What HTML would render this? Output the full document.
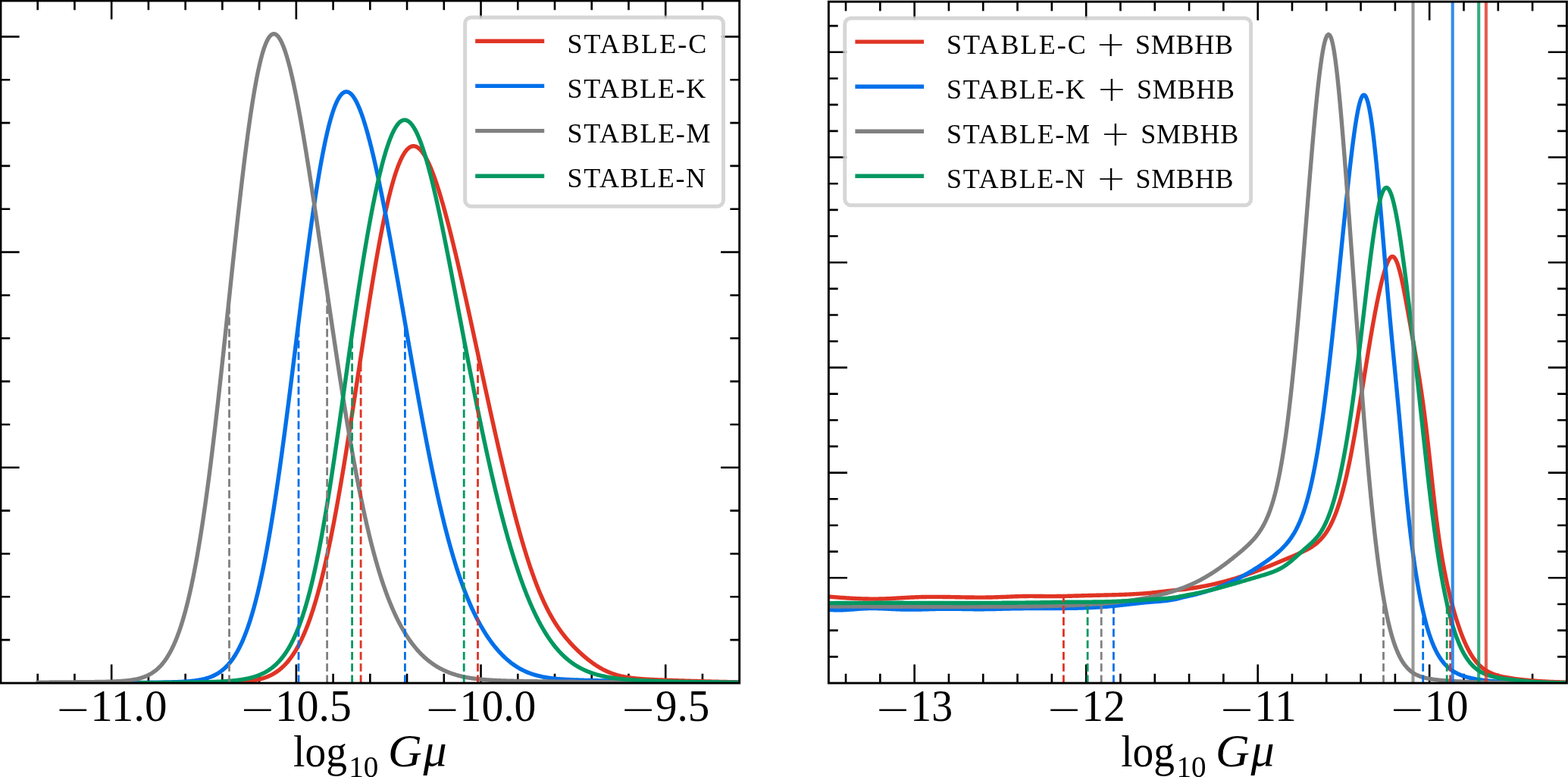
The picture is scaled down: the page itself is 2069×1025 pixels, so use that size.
<!DOCTYPE html><html><head><meta charset="utf-8"><title>plot</title><style>html,body{margin:0;padding:0;background:#fff;overflow:hidden}svg{display:block}</style></head><body><svg width="2069" height="1025" viewBox="0 0 2069 1025">
<rect width="2069" height="1025" fill="#fff"/>
<defs>
<clipPath id="cl"><rect x="0.95" y="1" width="974.75" height="900.1"/></clipPath>
<clipPath id="cr"><rect x="1093.4" y="2.2" width="974" height="898.9"/></clipPath>
</defs>
<path d="M147.16,901.1 V876.5 M147.16,1 V25.6 M390.85,901.1 V876.5 M390.85,1 V25.6 M634.54,901.1 V876.5 M634.54,1 V25.6 M878.23,901.1 V876.5 M878.23,1 V25.6 M49.69,901.1 V888.8 M49.69,1 V13.3 M98.43,901.1 V888.8 M98.43,1 V13.3 M195.9,901.1 V888.8 M195.9,1 V13.3 M244.64,901.1 V888.8 M244.64,1 V13.3 M293.38,901.1 V888.8 M293.38,1 V13.3 M342.11,901.1 V888.8 M342.11,1 V13.3 M439.59,901.1 V888.8 M439.59,1 V13.3 M488.33,901.1 V888.8 M488.33,1 V13.3 M537.06,901.1 V888.8 M537.06,1 V13.3 M585.8,901.1 V888.8 M585.8,1 V13.3 M683.28,901.1 V888.8 M683.28,1 V13.3 M732.01,901.1 V888.8 M732.01,1 V13.3 M780.75,901.1 V888.8 M780.75,1 V13.3 M829.49,901.1 V888.8 M829.49,1 V13.3 M926.96,901.1 V888.8 M926.96,1 V13.3 M0.95,616.8 H25.55 M975.7,616.8 H951.1 M0.95,332.6 H25.55 M975.7,332.6 H951.1 M0.95,48.4 H25.55 M975.7,48.4 H951.1 M0.95,844.16 H13.25 M975.7,844.16 H963.4 M0.95,787.32 H13.25 M975.7,787.32 H963.4 M0.95,730.48 H13.25 M975.7,730.48 H963.4 M0.95,673.64 H13.25 M975.7,673.64 H963.4 M0.95,559.96 H13.25 M975.7,559.96 H963.4 M0.95,503.12 H13.25 M975.7,503.12 H963.4 M0.95,446.28 H13.25 M975.7,446.28 H963.4 M0.95,389.44 H13.25 M975.7,389.44 H963.4 M0.95,275.76 H13.25 M975.7,275.76 H963.4 M0.95,218.92 H13.25 M975.7,218.92 H963.4 M0.95,162.08 H13.25 M975.7,162.08 H963.4 M0.95,105.24 H13.25 M975.7,105.24 H963.4" stroke="#000" stroke-width="2.6" fill="none"/>
<path d="M1206.66,901.1 V876.5 M1206.66,2.2 V26.8 M1433.17,901.1 V876.5 M1433.17,2.2 V26.8 M1659.68,901.1 V876.5 M1659.68,2.2 V26.8 M1886.19,901.1 V876.5 M1886.19,2.2 V26.8 M1116.05,901.1 V888.8 M1116.05,2.2 V14.5 M1161.35,901.1 V888.8 M1161.35,2.2 V14.5 M1251.96,901.1 V888.8 M1251.96,2.2 V14.5 M1297.26,901.1 V888.8 M1297.26,2.2 V14.5 M1342.56,901.1 V888.8 M1342.56,2.2 V14.5 M1387.87,901.1 V888.8 M1387.87,2.2 V14.5 M1478.47,901.1 V888.8 M1478.47,2.2 V14.5 M1523.77,901.1 V888.8 M1523.77,2.2 V14.5 M1569.07,901.1 V888.8 M1569.07,2.2 V14.5 M1614.38,901.1 V888.8 M1614.38,2.2 V14.5 M1704.98,901.1 V888.8 M1704.98,2.2 V14.5 M1750.28,901.1 V888.8 M1750.28,2.2 V14.5 M1795.59,901.1 V888.8 M1795.59,2.2 V14.5 M1840.89,901.1 V888.8 M1840.89,2.2 V14.5 M1931.49,901.1 V888.8 M1931.49,2.2 V14.5 M1976.8,901.1 V888.8 M1976.8,2.2 V14.5 M2022.1,901.1 V888.8 M2022.1,2.2 V14.5 M1093.4,762.3 H1118 M2067.4,762.3 H2042.8 M1093.4,623.6 H1118 M2067.4,623.6 H2042.8 M1093.4,484.9 H1118 M2067.4,484.9 H2042.8 M1093.4,346.2 H1118 M2067.4,346.2 H2042.8 M1093.4,207.5 H1118 M2067.4,207.5 H2042.8 M1093.4,68.8 H1118 M2067.4,68.8 H2042.8 M1093.4,866.33 H1105.7 M2067.4,866.33 H2055.1 M1093.4,831.65 H1105.7 M2067.4,831.65 H2055.1 M1093.4,796.98 H1105.7 M2067.4,796.98 H2055.1 M1093.4,727.62 H1105.7 M2067.4,727.62 H2055.1 M1093.4,692.95 H1105.7 M2067.4,692.95 H2055.1 M1093.4,658.28 H1105.7 M2067.4,658.28 H2055.1 M1093.4,588.92 H1105.7 M2067.4,588.92 H2055.1 M1093.4,554.25 H1105.7 M2067.4,554.25 H2055.1 M1093.4,519.58 H1105.7 M2067.4,519.58 H2055.1 M1093.4,450.23 H1105.7 M2067.4,450.23 H2055.1 M1093.4,415.55 H1105.7 M2067.4,415.55 H2055.1 M1093.4,380.88 H1105.7 M2067.4,380.88 H2055.1 M1093.4,311.53 H1105.7 M2067.4,311.53 H2055.1 M1093.4,276.85 H1105.7 M2067.4,276.85 H2055.1 M1093.4,242.18 H1105.7 M2067.4,242.18 H2055.1 M1093.4,172.83 H1105.7 M2067.4,172.83 H2055.1 M1093.4,138.15 H1105.7 M2067.4,138.15 H2055.1 M1093.4,103.48 H1105.7 M2067.4,103.48 H2055.1 M1093.4,34.13 H1105.7 M2067.4,34.13 H2055.1" stroke="#000" stroke-width="2.6" fill="none"/>
<g clip-path="url(#cl)" fill="none">
<path d="M200,901 L201,901 L202,901 L203,901 L204,901 L205,901 L206,901 L207,901 L208,901 L209,901 L210,901 L211,901 L212,901 L213,901 L214,901 L215,901 L216,901 L217,901 L218,901 L219,901 L220,901 L221,901 L222,901 L223,901 L224,901 L225,901 L226,901 L227,901 L228,901 L229,901 L230,901 L231,901 L232,901 L233,901 L234,901 L235,901 L236,901 L237,901 L238,901 L239,901 L240,901 L241,900.99 L242,900.99 L243,900.99 L244,900.99 L245,900.99 L246,900.99 L247,900.99 L248,900.99 L249,900.99 L250,900.99 L251,900.99 L252,900.99 L253,900.99 L254,900.98 L255,900.98 L256,900.98 L257,900.98 L258,900.98 L259,900.98 L260,900.98 L261,900.97 L262,900.97 L263,900.97 L264,900.97 L265,900.96 L266,900.96 L267,900.96 L268,900.96 L269,900.95 L270,900.95 L271,900.94 L272,900.94 L273,900.94 L274,900.93 L275,900.93 L276,900.92 L277,900.91 L278,900.91 L279,900.9 L280,900.89 L281,900.89 L282,900.88 L283,900.87 L284,900.86 L285,900.85 L286,900.84 L287,900.83 L288,900.82 L289,900.8 L290,900.79 L291,900.78 L292,900.76 L293,900.74 L294,900.73 L295,900.71 L296,900.69 L297,900.67 L298,900.64 L299,900.62 L300,900.59 L301,900.57 L302,900.54 L303,900.51 L304,900.47 L305,900.44 L306,900.4 L307,900.37 L308,900.32 L309,900.28 L310,900.23 L311,900.19 L312,900.13 L313,900.08 L314,900.02 L315,899.96 L316,899.9 L317,899.83 L318,899.76 L319,899.68 L320,899.6 L321,899.52 L322,899.43 L323,899.33 L324,899.23 L325,899.13 L326,899.02 L327,898.9 L328,898.78 L329,898.65 L330,898.51 L331,898.37 L332,898.22 L333,898.06 L334,897.9 L335,897.72 L336,897.54 L337,897.35 L338,897.15 L339,896.93 L340,896.71 L341,896.48 L342,896.23 L343,895.98 L344,895.71 L345,895.43 L346,895.13 L347,894.82 L348,894.5 L349,894.16 L350,893.81 L351,893.44 L352,893.05 L353,892.65 L354,892.23 L355,891.79 L356,891.33 L357,890.85 L358,890.35 L359,889.83 L360,889.28 L361,888.72 L362,888.12 L363,887.51 L364,886.87 L365,886.2 L366,885.51 L367,884.79 L368,884.04 L369,883.26 L370,882.45 L371,881.61 L372,880.73 L373,879.82 L374,878.88 L375,877.91 L376,876.89 L377,875.84 L378,874.75 L379,873.62 L380,872.46 L381,871.25 L382,869.99 L383,868.7 L384,867.36 L385,865.97 L386,864.54 L387,863.06 L388,861.53 L389,859.95 L390,858.32 L391,856.63 L392,854.9 L393,853.11 L394,851.26 L395,849.36 L396,847.4 L397,845.38 L398,843.3 L399,841.16 L400,838.96 L401,836.7 L402,834.37 L403,831.98 L404,829.52 L405,827 L406,824.41 L407,821.74 L408,819.01 L409,816.22 L410,813.34 L411,810.4 L412,807.39 L413,804.3 L414,801.14 L415,797.9 L416,794.59 L417,791.2 L418,787.74 L419,784.19 L420,780.58 L421,776.88 L422,773.11 L423,769.26 L424,765.33 L425,761.32 L426,757.24 L427,753.07 L428,748.83 L429,744.51 L430,740.11 L431,735.63 L432,731.08 L433,726.44 L434,721.73 L435,716.95 L436,712.09 L437,707.15 L438,702.14 L439,697.05 L440,691.9 L441,686.67 L442,681.36 L443,675.99 L444,670.55 L445,665.05 L446,659.48 L447,653.84 L448,648.14 L449,642.37 L450,636.55 L451,630.67 L452,624.74 L453,618.74 L454,612.7 L455,606.6 L456,600.46 L457,594.27 L458,588.04 L459,581.76 L460,575.44 L461,569.09 L462,562.7 L463,556.28 L464,549.83 L465,543.36 L466,536.86 L467,530.34 L468,523.8 L469,517.24 L470,510.67 L471,504.1 L472,497.51 L473,490.92 L474,484.34 L475,477.75 L476,471.17 L477,464.6 L478,458.04 L479,451.5 L480,444.97 L481,438.47 L482,432 L483,425.55 L484,419.13 L485,412.75 L486,406.41 L487,400.1 L488,393.85 L489,387.64 L490,381.48 L491,375.38 L492,369.33 L493,363.35 L494,357.43 L495,351.57 L496,345.79 L497,340.08 L498,334.44 L499,328.89 L500,323.41 L501,318.02 L502,312.72 L503,307.51 L504,302.38 L505,297.36 L506,292.43 L507,287.6 L508,282.87 L509,278.25 L510,273.74 L511,269.33 L512,265.03 L513,260.85 L514,256.78 L515,252.82 L516,248.99 L517,245.27 L518,241.67 L519,238.2 L520,234.84 L521,231.62 L522,228.51 L523,225.54 L524,222.69 L525,219.97 L526,217.38 L527,214.91 L528,212.58 L529,210.38 L530,208.3 L531,206.36 L532,204.55 L533,202.87 L534,201.32 L535,199.9 L536,198.61 L537,197.45 L538,196.42 L539,195.52 L540,194.75 L541,194.1 L542,193.59 L543,193.19 L544,192.93 L545,192.79 L546,192.77 L547,192.87 L548,193.09 L549,193.43 L550,193.9 L551,194.47 L552,195.17 L553,195.98 L554,196.9 L555,197.93 L556,199.07 L557,200.32 L558,201.67 L559,203.13 L560,204.69 L561,206.35 L562,208.12 L563,209.97 L564,211.93 L565,213.98 L566,216.11 L567,218.34 L568,220.66 L569,223.06 L570,225.55 L571,228.12 L572,230.77 L573,233.49 L574,236.3 L575,239.18 L576,242.13 L577,245.15 L578,248.24 L579,251.39 L580,254.62 L581,257.9 L582,261.25 L583,264.65 L584,268.11 L585,271.63 L586,275.21 L587,278.83 L588,282.51 L589,286.23 L590,290.01 L591,293.83 L592,297.69 L593,301.6 L594,305.54 L595,309.53 L596,313.55 L597,317.61 L598,321.71 L599,325.84 L600,330 L601,334.2 L602,338.42 L603,342.67 L604,346.95 L605,351.26 L606,355.59 L607,359.94 L608,364.32 L609,368.72 L610,373.13 L611,377.57 L612,382.03 L613,386.5 L614,390.99 L615,395.49 L616,400.01 L617,404.54 L618,409.08 L619,413.63 L620,418.2 L621,422.77 L622,427.35 L623,431.94 L624,436.54 L625,441.14 L626,445.75 L627,450.36 L628,454.97 L629,459.59 L630,464.21 L631,468.84 L632,473.46 L633,478.08 L634,482.7 L635,487.32 L636,491.94 L637,496.55 L638,501.16 L639,505.77 L640,510.37 L641,514.96 L642,519.55 L643,524.12 L644,528.7 L645,533.26 L646,537.81 L647,542.35 L648,546.88 L649,551.4 L650,555.9 L651,560.4 L652,564.87 L653,569.34 L654,573.78 L655,578.22 L656,582.63 L657,587.03 L658,591.4 L659,595.76 L660,600.1 L661,604.42 L662,608.71 L663,612.99 L664,617.24 L665,621.47 L666,625.67 L667,629.85 L668,634 L669,638.12 L670,642.22 L671,646.29 L672,650.33 L673,654.34 L674,658.32 L675,662.27 L676,666.19 L677,670.07 L678,673.93 L679,677.74 L680,681.53 L681,685.28 L682,688.99 L683,692.66 L684,696.3 L685,699.9 L686,703.47 L687,706.99 L688,710.47 L689,713.92 L690,717.32 L691,720.68 L692,724.01 L693,727.28 L694,730.52 L695,733.71 L696,736.86 L697,739.97 L698,743.03 L699,746.05 L700,749.02 L701,751.95 L702,754.83 L703,757.67 L704,760.46 L705,763.21 L706,765.91 L707,768.56 L708,771.17 L709,773.74 L710,776.26 L711,778.73 L712,781.16 L713,783.54 L714,785.88 L715,788.17 L716,790.42 L717,792.63 L718,794.79 L719,796.91 L720,798.99 L721,801.03 L722,803.02 L723,804.98 L724,806.89 L725,808.77 L726,810.6 L727,812.4 L728,814.16 L729,815.89 L730,817.58 L731,819.23 L732,820.85 L733,822.44 L734,823.99 L735,825.52 L736,827.01 L737,828.48 L738,829.91 L739,831.32 L740,832.7 L741,834.05 L742,835.38 L743,836.69 L744,837.97 L745,839.23 L746,840.46 L747,841.68 L748,842.87 L749,844.05 L750,845.2 L751,846.34 L752,847.46 L753,848.56 L754,849.65 L755,850.72 L756,851.78 L757,852.82 L758,853.84 L759,854.85 L760,855.85 L761,856.84 L762,857.81 L763,858.76 L764,859.71 L765,860.64 L766,861.56 L767,862.47 L768,863.37 L769,864.25 L770,865.12 L771,865.98 L772,866.83 L773,867.66 L774,868.48 L775,869.3 L776,870.09 L777,870.88 L778,871.65 L779,872.41 L780,873.16 L781,873.89 L782,874.62 L783,875.33 L784,876.02 L785,876.7 L786,877.37 L787,878.03 L788,878.67 L789,879.29 L790,879.91 L791,880.51 L792,881.09 L793,881.66 L794,882.22 L795,882.76 L796,883.29 L797,883.81 L798,884.31 L799,884.79 L800,885.27 L801,885.72 L802,886.17 L803,886.6 L804,887.02 L805,887.42 L806,887.82 L807,888.19 L808,888.56 L809,888.91 L810,889.25 L811,889.58 L812,889.9 L813,890.21 L814,890.5 L815,890.78 L816,891.05 L817,891.32 L818,891.57 L819,891.81 L820,892.04 L821,892.26 L822,892.48 L823,892.68 L824,892.88 L825,893.07 L826,893.25 L827,893.42 L828,893.58 L829,893.74 L830,893.89 L831,894.04 L832,894.18 L833,894.31 L834,894.44 L835,894.56 L836,894.68 L837,894.79 L838,894.9 L839,895 L840,895.1 L841,895.2 L842,895.29 L843,895.38 L844,895.46 L845,895.54 L846,895.62 L847,895.69 L848,895.77 L849,895.84 L850,895.9 L851,895.97 L852,896.03 L853,896.09 L854,896.15 L855,896.21 L856,896.27 L857,896.32 L858,896.37 L859,896.42 L860,896.47 L861,896.52 L862,896.57 L863,896.62 L864,896.66 L865,896.71 L866,896.75 L867,896.79 L868,896.83 L869,896.88 L870,896.92 L871,896.96 L872,897 L873,897.04 L874,897.07 L875,897.11 L876,897.15 L877,897.19 L878,897.22 L879,897.26 L880,897.3 L881,897.33 L882,897.37 L883,897.4 L884,897.44 L885,897.47 L886,897.5 L887,897.54 L888,897.57 L889,897.61 L890,897.64 L891,897.67 L892,897.71 L893,897.74 L894,897.77 L895,897.8 L896,897.84 L897,897.87 L898,897.9 L899,897.93 L900,897.96 L901,897.99 L902,898.03 L903,898.06 L904,898.09 L905,898.12 L906,898.15 L907,898.18 L908,898.21 L909,898.24 L910,898.27 L911,898.3 L912,898.33 L913,898.36 L914,898.39 L915,898.42 L916,898.45 L917,898.48 L918,898.51 L919,898.54 L920,898.57 L921,898.6 L922,898.62 L923,898.65 L924,898.68 L925,898.71 L926,898.74 L927,898.77 L928,898.79 L929,898.82 L930,898.85 L931,898.88 L932,898.9 L933,898.93 L934,898.96 L935,898.98 L936,899.01 L937,899.03 L938,899.06 L939,899.09 L940,899.11 L941,899.14 L942,899.16 L943,899.19 L944,899.21 L945,899.24 L946,899.26 L947,899.29 L948,899.31 L949,899.33 L950,899.36 L951,899.38 L952,899.41 L953,899.43 L954,899.45 L955,899.47 L956,899.5 L957,899.52 L958,899.54 L959,899.56 L960,899.59 L961,899.61 L962,899.63 L963,899.65 L964,899.67 L965,899.69 L966,899.71 L967,899.73 L968,899.75 L969,899.77 L970,899.79 L971,899.81 L972,899.83 L973,899.85 L974,899.87 L975,899.89 L976,899.91" stroke="#e03424" stroke-width="5.4" stroke-linejoin="round"/>
<path d="M150,900.64 L151,900.63 L152,900.63 L153,900.62 L154,900.62 L155,900.61 L156,900.61 L157,900.6 L158,900.6 L159,900.59 L160,900.59 L161,900.58 L162,900.57 L163,900.57 L164,900.56 L165,900.56 L166,900.55 L167,900.54 L168,900.54 L169,900.53 L170,900.53 L171,900.52 L172,900.51 L173,900.51 L174,900.5 L175,900.49 L176,900.49 L177,900.48 L178,900.47 L179,900.46 L180,900.46 L181,900.45 L182,900.44 L183,900.44 L184,900.43 L185,900.42 L186,900.41 L187,900.4 L188,900.4 L189,900.39 L190,900.38 L191,900.37 L192,900.36 L193,900.35 L194,900.34 L195,900.33 L196,900.32 L197,900.32 L198,900.31 L199,900.3 L200,900.28 L201,900.27 L202,900.26 L203,900.25 L204,900.24 L205,900.23 L206,900.22 L207,900.21 L208,900.19 L209,900.18 L210,900.17 L211,900.15 L212,900.14 L213,900.12 L214,900.11 L215,900.09 L216,900.07 L217,900.06 L218,900.04 L219,900.02 L220,900 L221,899.98 L222,899.96 L223,899.94 L224,899.92 L225,899.89 L226,899.87 L227,899.84 L228,899.81 L229,899.79 L230,899.76 L231,899.72 L232,899.69 L233,899.66 L234,899.62 L235,899.58 L236,899.54 L237,899.5 L238,899.45 L239,899.41 L240,899.36 L241,899.3 L242,899.25 L243,899.19 L244,899.13 L245,899.06 L246,899 L247,898.92 L248,898.85 L249,898.77 L250,898.68 L251,898.59 L252,898.49 L253,898.39 L254,898.29 L255,898.17 L256,898.06 L257,897.93 L258,897.8 L259,897.66 L260,897.51 L261,897.36 L262,897.19 L263,897.02 L264,896.84 L265,896.64 L266,896.44 L267,896.22 L268,896 L269,895.76 L270,895.51 L271,895.24 L272,894.96 L273,894.67 L274,894.36 L275,894.04 L276,893.69 L277,893.33 L278,892.96 L279,892.56 L280,892.14 L281,891.7 L282,891.24 L283,890.76 L284,890.25 L285,889.72 L286,889.16 L287,888.57 L288,887.96 L289,887.31 L290,886.64 L291,885.94 L292,885.2 L293,884.43 L294,883.62 L295,882.78 L296,881.9 L297,880.98 L298,880.02 L299,879.01 L300,877.97 L301,876.88 L302,875.74 L303,874.56 L304,873.32 L305,872.04 L306,870.7 L307,869.31 L308,867.86 L309,866.35 L310,864.79 L311,863.17 L312,861.48 L313,859.73 L314,857.91 L315,856.03 L316,854.08 L317,852.06 L318,849.96 L319,847.79 L320,845.55 L321,843.23 L322,840.83 L323,838.34 L324,835.78 L325,833.13 L326,830.4 L327,827.58 L328,824.67 L329,821.67 L330,818.58 L331,815.4 L332,812.12 L333,808.75 L334,805.28 L335,801.72 L336,798.05 L337,794.28 L338,790.41 L339,786.44 L340,782.37 L341,778.19 L342,773.91 L343,769.52 L344,765.03 L345,760.43 L346,755.72 L347,750.91 L348,745.98 L349,740.95 L350,735.82 L351,730.57 L352,725.22 L353,719.76 L354,714.19 L355,708.52 L356,702.75 L357,696.87 L358,690.88 L359,684.79 L360,678.61 L361,672.32 L362,665.93 L363,659.45 L364,652.87 L365,646.19 L366,639.43 L367,632.58 L368,625.64 L369,618.61 L370,611.5 L371,604.32 L372,597.05 L373,589.71 L374,582.31 L375,574.83 L376,567.29 L377,559.68 L378,552.02 L379,544.31 L380,536.54 L381,528.73 L382,520.88 L383,512.98 L384,505.06 L385,497.1 L386,489.11 L387,481.11 L388,473.08 L389,465.05 L390,457 L391,448.96 L392,440.91 L393,432.87 L394,424.84 L395,416.83 L396,408.83 L397,400.86 L398,392.92 L399,385.02 L400,377.16 L401,369.34 L402,361.57 L403,353.86 L404,346.2 L405,338.61 L406,331.09 L407,323.65 L408,316.28 L409,308.99 L410,301.79 L411,294.69 L412,287.68 L413,280.77 L414,273.97 L415,267.28 L416,260.7 L417,254.24 L418,247.9 L419,241.68 L420,235.59 L421,229.64 L422,223.82 L423,218.14 L424,212.6 L425,207.21 L426,201.96 L427,196.87 L428,191.93 L429,187.14 L430,182.51 L431,178.04 L432,173.73 L433,169.59 L434,165.61 L435,161.79 L436,158.14 L437,154.67 L438,151.36 L439,148.22 L440,145.26 L441,142.46 L442,139.84 L443,137.39 L444,135.12 L445,133.01 L446,131.08 L447,129.32 L448,127.73 L449,126.31 L450,125.07 L451,123.99 L452,123.08 L453,122.34 L454,121.76 L455,121.35 L456,121.1 L457,121.01 L458,121.09 L459,121.32 L460,121.7 L461,122.25 L462,122.94 L463,123.79 L464,124.78 L465,125.93 L466,127.21 L467,128.64 L468,130.21 L469,131.91 L470,133.75 L471,135.72 L472,137.82 L473,140.05 L474,142.41 L475,144.88 L476,147.48 L477,150.19 L478,153.02 L479,155.96 L480,159.01 L481,162.17 L482,165.43 L483,168.79 L484,172.25 L485,175.81 L486,179.47 L487,183.21 L488,187.05 L489,190.97 L490,194.97 L491,199.06 L492,203.23 L493,207.48 L494,211.8 L495,216.19 L496,220.65 L497,225.18 L498,229.78 L499,234.44 L500,239.17 L501,243.95 L502,248.79 L503,253.68 L504,258.63 L505,263.63 L506,268.68 L507,273.78 L508,278.93 L509,284.11 L510,289.34 L511,294.61 L512,299.92 L513,305.27 L514,310.65 L515,316.06 L516,321.5 L517,326.98 L518,332.48 L519,338.01 L520,343.56 L521,349.14 L522,354.73 L523,360.35 L524,365.99 L525,371.64 L526,377.31 L527,382.99 L528,388.68 L529,394.38 L530,400.1 L531,405.82 L532,411.54 L533,417.27 L534,423 L535,428.74 L536,434.47 L537,440.2 L538,445.93 L539,451.65 L540,457.36 L541,463.07 L542,468.77 L543,474.46 L544,480.13 L545,485.8 L546,491.44 L547,497.07 L548,502.68 L549,508.27 L550,513.84 L551,519.39 L552,524.92 L553,530.41 L554,535.89 L555,541.33 L556,546.74 L557,552.13 L558,557.48 L559,562.8 L560,568.08 L561,573.33 L562,578.54 L563,583.72 L564,588.85 L565,593.94 L566,599 L567,604.01 L568,608.97 L569,613.9 L570,618.77 L571,623.6 L572,628.39 L573,633.12 L574,637.81 L575,642.45 L576,647.04 L577,651.57 L578,656.06 L579,660.49 L580,664.87 L581,669.2 L582,673.48 L583,677.7 L584,681.86 L585,685.98 L586,690.03 L587,694.04 L588,697.98 L589,701.88 L590,705.72 L591,709.5 L592,713.22 L593,716.9 L594,720.51 L595,724.08 L596,727.58 L597,731.03 L598,734.43 L599,737.78 L600,741.07 L601,744.3 L602,747.49 L603,750.62 L604,753.7 L605,756.73 L606,759.7 L607,762.63 L608,765.5 L609,768.33 L610,771.11 L611,773.84 L612,776.52 L613,779.15 L614,781.74 L615,784.28 L616,786.77 L617,789.22 L618,791.63 L619,793.99 L620,796.32 L621,798.6 L622,800.83 L623,803.03 L624,805.19 L625,807.31 L626,809.39 L627,811.43 L628,813.43 L629,815.4 L630,817.33 L631,819.23 L632,821.09 L633,822.92 L634,824.71 L635,826.47 L636,828.2 L637,829.89 L638,831.56 L639,833.19 L640,834.8 L641,836.37 L642,837.91 L643,839.43 L644,840.92 L645,842.38 L646,843.81 L647,845.21 L648,846.59 L649,847.94 L650,849.26 L651,850.56 L652,851.84 L653,853.08 L654,854.31 L655,855.51 L656,856.68 L657,857.84 L658,858.96 L659,860.07 L660,861.15 L661,862.21 L662,863.25 L663,864.26 L664,865.26 L665,866.23 L666,867.18 L667,868.11 L668,869.01 L669,869.9 L670,870.77 L671,871.61 L672,872.44 L673,873.25 L674,874.03 L675,874.8 L676,875.55 L677,876.28 L678,876.99 L679,877.69 L680,878.36 L681,879.02 L682,879.66 L683,880.28 L684,880.88 L685,881.47 L686,882.04 L687,882.6 L688,883.14 L689,883.66 L690,884.17 L691,884.66 L692,885.14 L693,885.6 L694,886.05 L695,886.48 L696,886.9 L697,887.31 L698,887.7 L699,888.08 L700,888.45 L701,888.81 L702,889.15 L703,889.48 L704,889.8 L705,890.11 L706,890.41 L707,890.69 L708,890.97 L709,891.24 L710,891.49 L711,891.74 L712,891.98 L713,892.21 L714,892.43 L715,892.64 L716,892.84 L717,893.04 L718,893.22 L719,893.4 L720,893.58 L721,893.74 L722,893.9 L723,894.06 L724,894.21 L725,894.35 L726,894.48 L727,894.61 L728,894.74 L729,894.86 L730,894.97 L731,895.08 L732,895.19 L733,895.29 L734,895.39 L735,895.48 L736,895.57 L737,895.66 L738,895.74 L739,895.82 L740,895.9 L741,895.97 L742,896.04 L743,896.11 L744,896.17 L745,896.24 L746,896.3 L747,896.36 L748,896.41 L749,896.47 L750,896.52 L751,896.57 L752,896.62 L753,896.67 L754,896.71 L755,896.76 L756,896.8 L757,896.84 L758,896.88 L759,896.92 L760,896.96 L761,897 L762,897.03 L763,897.07 L764,897.11 L765,897.14 L766,897.17 L767,897.2 L768,897.24 L769,897.27 L770,897.3 L771,897.33 L772,897.36 L773,897.39 L774,897.42 L775,897.44 L776,897.47 L777,897.5 L778,897.53 L779,897.55 L780,897.58 L781,897.6 L782,897.63 L783,897.66 L784,897.68 L785,897.71 L786,897.73 L787,897.76 L788,897.78 L789,897.8 L790,897.83 L791,897.85 L792,897.87 L793,897.9 L794,897.92 L795,897.94 L796,897.97 L797,897.99 L798,898.01 L799,898.03 L800,898.06 L801,898.08 L802,898.1 L803,898.12 L804,898.15 L805,898.17 L806,898.19 L807,898.21 L808,898.23 L809,898.25 L810,898.27 L811,898.3 L812,898.32 L813,898.34 L814,898.36 L815,898.38 L816,898.4 L817,898.42 L818,898.44 L819,898.46 L820,898.48 L821,898.5 L822,898.52 L823,898.54 L824,898.56 L825,898.58 L826,898.6 L827,898.62 L828,898.64 L829,898.66 L830,898.68 L831,898.7 L832,898.72 L833,898.74 L834,898.76 L835,898.78 L836,898.8 L837,898.81 L838,898.83 L839,898.85 L840,898.87 L841,898.89 L842,898.91 L843,898.92 L844,898.94 L845,898.96 L846,898.98 L847,899 L848,899.01 L849,899.03 L850,899.05 L851,899.07 L852,899.08 L853,899.1 L854,899.12 L855,899.14 L856,899.15 L857,899.17 L858,899.19 L859,899.2 L860,899.22 L861,899.24 L862,899.25 L863,899.27 L864,899.29 L865,899.3 L866,899.32 L867,899.33 L868,899.35 L869,899.37 L870,899.38 L871,899.4 L872,899.41 L873,899.43 L874,899.44 L875,899.46 L876,899.47 L877,899.49 L878,899.5 L879,899.52 L880,899.53 L881,899.55 L882,899.56 L883,899.58 L884,899.59 L885,899.6 L886,899.62 L887,899.63 L888,899.65 L889,899.66 L890,899.67 L891,899.69 L892,899.7 L893,899.71 L894,899.73 L895,899.74 L896,899.75 L897,899.77 L898,899.78 L899,899.79 L900,899.81 L901,899.82 L902,899.83 L903,899.84 L904,899.86 L905,899.87 L906,899.88 L907,899.89 L908,899.9 L909,899.92 L910,899.93 L911,899.94 L912,899.95 L913,899.96 L914,899.97 L915,899.99 L916,900 L917,900.01 L918,900.02 L919,900.03 L920,900.04 L921,900.05 L922,900.06 L923,900.07 L924,900.08 L925,900.09 L926,900.1 L927,900.11 L928,900.12 L929,900.13 L930,900.14 L931,900.15 L932,900.16 L933,900.17 L934,900.18 L935,900.19 L936,900.2 L937,900.21 L938,900.22 L939,900.23 L940,900.24 L941,900.25 L942,900.26 L943,900.27 L944,900.27 L945,900.28 L946,900.29 L947,900.3 L948,900.31 L949,900.32 L950,900.33 L951,900.33 L952,900.34 L953,900.35 L954,900.36 L955,900.37 L956,900.37 L957,900.38 L958,900.39 L959,900.4 L960,900.4 L961,900.41 L962,900.42 L963,900.43 L964,900.43 L965,900.44 L966,900.45 L967,900.46 L968,900.46 L969,900.47 L970,900.48 L971,900.48 L972,900.49 L973,900.5 L974,900.5 L975,900.51 L976,900.51" stroke="#0070ea" stroke-width="5.4" stroke-linejoin="round"/>
<path d="M47.5,900.18 L48.5,900.18 L49.5,900.17 L50.5,900.17 L51.5,900.16 L52.5,900.15 L53.5,900.15 L54.5,900.14 L55.5,900.14 L56.5,900.13 L57.5,900.12 L58.5,900.12 L59.5,900.11 L60.5,900.1 L61.5,900.1 L62.5,900.09 L63.5,900.09 L64.5,900.08 L65.5,900.07 L66.5,900.07 L67.5,900.06 L68.5,900.05 L69.5,900.05 L70.5,900.04 L71.5,900.03 L72.5,900.03 L73.5,900.02 L74.5,900.01 L75.5,900.01 L76.5,900 L77.5,899.99 L78.5,899.98 L79.5,899.98 L80.5,899.97 L81.5,899.96 L82.5,899.96 L83.5,899.95 L84.5,899.94 L85.5,899.93 L86.5,899.93 L87.5,899.92 L88.5,899.91 L89.5,899.91 L90.5,899.9 L91.5,899.89 L92.5,899.88 L93.5,899.88 L94.5,899.87 L95.5,899.86 L96.5,899.85 L97.5,899.84 L98.5,899.84 L99.5,899.83 L100.5,899.82 L101.5,899.81 L102.5,899.8 L103.5,899.79 L104.5,899.79 L105.5,899.78 L106.5,899.77 L107.5,899.76 L108.5,899.75 L109.5,899.74 L110.5,899.73 L111.5,899.72 L112.5,899.71 L113.5,899.7 L114.5,899.69 L115.5,899.68 L116.5,899.67 L117.5,899.66 L118.5,899.65 L119.5,899.64 L120.5,899.63 L121.5,899.62 L122.5,899.61 L123.5,899.59 L124.5,899.58 L125.5,899.57 L126.5,899.56 L127.5,899.54 L128.5,899.53 L129.5,899.51 L130.5,899.5 L131.5,899.48 L132.5,899.46 L133.5,899.45 L134.5,899.43 L135.5,899.41 L136.5,899.39 L137.5,899.37 L138.5,899.35 L139.5,899.33 L140.5,899.3 L141.5,899.28 L142.5,899.25 L143.5,899.22 L144.5,899.2 L145.5,899.17 L146.5,899.13 L147.5,899.1 L148.5,899.07 L149.5,899.03 L150.5,898.99 L151.5,898.95 L152.5,898.9 L153.5,898.86 L154.5,898.81 L155.5,898.76 L156.5,898.7 L157.5,898.65 L158.5,898.58 L159.5,898.52 L160.5,898.45 L161.5,898.38 L162.5,898.3 L163.5,898.22 L164.5,898.13 L165.5,898.04 L166.5,897.95 L167.5,897.84 L168.5,897.73 L169.5,897.62 L170.5,897.5 L171.5,897.37 L172.5,897.23 L173.5,897.09 L174.5,896.93 L175.5,896.77 L176.5,896.6 L177.5,896.42 L178.5,896.23 L179.5,896.03 L180.5,895.81 L181.5,895.58 L182.5,895.34 L183.5,895.09 L184.5,894.82 L185.5,894.54 L186.5,894.24 L187.5,893.93 L188.5,893.6 L189.5,893.25 L190.5,892.88 L191.5,892.49 L192.5,892.08 L193.5,891.65 L194.5,891.19 L195.5,890.71 L196.5,890.21 L197.5,889.68 L198.5,889.13 L199.5,888.54 L200.5,887.93 L201.5,887.28 L202.5,886.6 L203.5,885.89 L204.5,885.14 L205.5,884.36 L206.5,883.54 L207.5,882.68 L208.5,881.78 L209.5,880.83 L210.5,879.84 L211.5,878.81 L212.5,877.73 L213.5,876.6 L214.5,875.42 L215.5,874.18 L216.5,872.89 L217.5,871.55 L218.5,870.14 L219.5,868.68 L220.5,867.15 L221.5,865.56 L222.5,863.9 L223.5,862.18 L224.5,860.38 L225.5,858.51 L226.5,856.57 L227.5,854.55 L228.5,852.45 L229.5,850.27 L230.5,848.01 L231.5,845.66 L232.5,843.23 L233.5,840.7 L234.5,838.09 L235.5,835.38 L236.5,832.57 L237.5,829.67 L238.5,826.66 L239.5,823.56 L240.5,820.35 L241.5,817.03 L242.5,813.6 L243.5,810.07 L244.5,806.42 L245.5,802.66 L246.5,798.78 L247.5,794.78 L248.5,790.67 L249.5,786.44 L250.5,782.08 L251.5,777.6 L252.5,772.99 L253.5,768.26 L254.5,763.4 L255.5,758.41 L256.5,753.29 L257.5,748.04 L258.5,742.66 L259.5,737.15 L260.5,731.51 L261.5,725.73 L262.5,719.82 L263.5,713.78 L264.5,707.61 L265.5,701.3 L266.5,694.86 L267.5,688.29 L268.5,681.58 L269.5,674.75 L270.5,667.79 L271.5,660.69 L272.5,653.48 L273.5,646.13 L274.5,638.67 L275.5,631.08 L276.5,623.37 L277.5,615.55 L278.5,607.61 L279.5,599.55 L280.5,591.39 L281.5,583.12 L282.5,574.75 L283.5,566.28 L284.5,557.71 L285.5,549.06 L286.5,540.31 L287.5,531.47 L288.5,522.56 L289.5,513.57 L290.5,504.52 L291.5,495.39 L292.5,486.21 L293.5,476.96 L294.5,467.67 L295.5,458.34 L296.5,448.96 L297.5,439.55 L298.5,430.11 L299.5,420.65 L300.5,411.18 L301.5,401.7 L302.5,392.21 L303.5,382.72 L304.5,373.25 L305.5,363.79 L306.5,354.36 L307.5,344.96 L308.5,335.59 L309.5,326.27 L310.5,317 L311.5,307.78 L312.5,298.63 L313.5,289.55 L314.5,280.55 L315.5,271.63 L316.5,262.8 L317.5,254.08 L318.5,245.45 L319.5,236.94 L320.5,228.55 L321.5,220.28 L322.5,212.14 L323.5,204.14 L324.5,196.29 L325.5,188.58 L326.5,181.02 L327.5,173.63 L328.5,166.4 L329.5,159.35 L330.5,152.47 L331.5,145.77 L332.5,139.26 L333.5,132.94 L334.5,126.81 L335.5,120.89 L336.5,115.17 L337.5,109.65 L338.5,104.35 L339.5,99.25 L340.5,94.38 L341.5,89.72 L342.5,85.29 L343.5,81.08 L344.5,77.1 L345.5,73.34 L346.5,69.82 L347.5,66.52 L348.5,63.46 L349.5,60.62 L350.5,58.03 L351.5,55.66 L352.5,53.53 L353.5,51.63 L354.5,49.96 L355.5,48.52 L356.5,47.32 L357.5,46.34 L358.5,45.59 L359.5,45.07 L360.5,44.77 L361.5,44.7 L362.5,44.85 L363.5,45.21 L364.5,45.79 L365.5,46.58 L366.5,47.59 L367.5,48.8 L368.5,50.21 L369.5,51.83 L370.5,53.64 L371.5,55.64 L372.5,57.84 L373.5,60.22 L374.5,62.78 L375.5,65.53 L376.5,68.44 L377.5,71.53 L378.5,74.79 L379.5,78.2 L380.5,81.78 L381.5,85.51 L382.5,89.39 L383.5,93.41 L384.5,97.58 L385.5,101.88 L386.5,106.32 L387.5,110.88 L388.5,115.57 L389.5,120.38 L390.5,125.31 L391.5,130.35 L392.5,135.5 L393.5,140.75 L394.5,146.1 L395.5,151.55 L396.5,157.09 L397.5,162.72 L398.5,168.44 L399.5,174.23 L400.5,180.11 L401.5,186.06 L402.5,192.08 L403.5,198.17 L404.5,204.32 L405.5,210.53 L406.5,216.8 L407.5,223.13 L408.5,229.5 L409.5,235.93 L410.5,242.4 L411.5,248.92 L412.5,255.47 L413.5,262.06 L414.5,268.69 L415.5,275.34 L416.5,282.03 L417.5,288.74 L418.5,295.48 L419.5,302.24 L420.5,309.02 L421.5,315.81 L422.5,322.62 L423.5,329.44 L424.5,336.27 L425.5,343.11 L426.5,349.96 L427.5,356.8 L428.5,363.65 L429.5,370.5 L430.5,377.35 L431.5,384.19 L432.5,391.02 L433.5,397.84 L434.5,404.66 L435.5,411.46 L436.5,418.24 L437.5,425.01 L438.5,431.75 L439.5,438.48 L440.5,445.19 L441.5,451.86 L442.5,458.52 L443.5,465.14 L444.5,471.74 L445.5,478.3 L446.5,484.83 L447.5,491.32 L448.5,497.78 L449.5,504.2 L450.5,510.57 L451.5,516.91 L452.5,523.2 L453.5,529.45 L454.5,535.65 L455.5,541.8 L456.5,547.9 L457.5,553.96 L458.5,559.95 L459.5,565.9 L460.5,571.79 L461.5,577.63 L462.5,583.41 L463.5,589.13 L464.5,594.79 L465.5,600.39 L466.5,605.93 L467.5,611.41 L468.5,616.82 L469.5,622.18 L470.5,627.46 L471.5,632.69 L472.5,637.84 L473.5,642.93 L474.5,647.96 L475.5,652.91 L476.5,657.8 L477.5,662.62 L478.5,667.38 L479.5,672.06 L480.5,676.68 L481.5,681.22 L482.5,685.7 L483.5,690.11 L484.5,694.46 L485.5,698.73 L486.5,702.93 L487.5,707.07 L488.5,711.14 L489.5,715.14 L490.5,719.07 L491.5,722.94 L492.5,726.74 L493.5,730.48 L494.5,734.15 L495.5,737.75 L496.5,741.29 L497.5,744.77 L498.5,748.18 L499.5,751.53 L500.5,754.82 L501.5,758.04 L502.5,761.21 L503.5,764.31 L504.5,767.36 L505.5,770.35 L506.5,773.28 L507.5,776.16 L508.5,778.97 L509.5,781.74 L510.5,784.45 L511.5,787.1 L512.5,789.7 L513.5,792.25 L514.5,794.75 L515.5,797.2 L516.5,799.6 L517.5,801.95 L518.5,804.26 L519.5,806.51 L520.5,808.72 L521.5,810.89 L522.5,813.01 L523.5,815.09 L524.5,817.12 L525.5,819.11 L526.5,821.06 L527.5,822.97 L528.5,824.84 L529.5,826.67 L530.5,828.46 L531.5,830.21 L532.5,831.93 L533.5,833.61 L534.5,835.25 L535.5,836.86 L536.5,838.44 L537.5,839.98 L538.5,841.49 L539.5,842.96 L540.5,844.41 L541.5,845.82 L542.5,847.2 L543.5,848.55 L544.5,849.87 L545.5,851.16 L546.5,852.43 L547.5,853.66 L548.5,854.87 L549.5,856.05 L550.5,857.21 L551.5,858.34 L552.5,859.44 L553.5,860.52 L554.5,861.57 L555.5,862.6 L556.5,863.6 L557.5,864.58 L558.5,865.54 L559.5,866.48 L560.5,867.39 L561.5,868.29 L562.5,869.16 L563.5,870.01 L564.5,870.84 L565.5,871.65 L566.5,872.44 L567.5,873.21 L568.5,873.96 L569.5,874.69 L570.5,875.41 L571.5,876.11 L572.5,876.79 L573.5,877.45 L574.5,878.09 L575.5,878.72 L576.5,879.33 L577.5,879.93 L578.5,880.51 L579.5,881.08 L580.5,881.63 L581.5,882.16 L582.5,882.68 L583.5,883.19 L584.5,883.68 L585.5,884.16 L586.5,884.63 L587.5,885.08 L588.5,885.52 L589.5,885.95 L590.5,886.37 L591.5,886.77 L592.5,887.16 L593.5,887.54 L594.5,887.91 L595.5,888.27 L596.5,888.62 L597.5,888.96 L598.5,889.29 L599.5,889.61 L600.5,889.92 L601.5,890.22 L602.5,890.51 L603.5,890.79 L604.5,891.06 L605.5,891.33 L606.5,891.58 L607.5,891.83 L608.5,892.07 L609.5,892.3 L610.5,892.53 L611.5,892.75 L612.5,892.96 L613.5,893.16 L614.5,893.36 L615.5,893.55 L616.5,893.73 L617.5,893.91 L618.5,894.09 L619.5,894.25 L620.5,894.41 L621.5,894.57 L622.5,894.72 L623.5,894.87 L624.5,895.01 L625.5,895.14 L626.5,895.28 L627.5,895.4 L628.5,895.52 L629.5,895.64 L630.5,895.76 L631.5,895.87 L632.5,895.97 L633.5,896.08 L634.5,896.17 L635.5,896.27 L636.5,896.36 L637.5,896.45 L638.5,896.54 L639.5,896.62 L640.5,896.7 L641.5,896.78 L642.5,896.85 L643.5,896.92 L644.5,896.99 L645.5,897.06 L646.5,897.12 L647.5,897.19 L648.5,897.25 L649.5,897.3 L650.5,897.36 L651.5,897.41 L652.5,897.47 L653.5,897.52 L654.5,897.56 L655.5,897.61 L656.5,897.66 L657.5,897.7 L658.5,897.74 L659.5,897.78 L660.5,897.82 L661.5,897.86 L662.5,897.9 L663.5,897.93 L664.5,897.97 L665.5,898 L666.5,898.03 L667.5,898.06 L668.5,898.09 L669.5,898.12 L670.5,898.15 L671.5,898.18 L672.5,898.2 L673.5,898.23 L674.5,898.25 L675.5,898.28 L676.5,898.3 L677.5,898.32 L678.5,898.35 L679.5,898.37 L680.5,898.39 L681.5,898.41 L682.5,898.43 L683.5,898.45 L684.5,898.47 L685.5,898.49 L686.5,898.5 L687.5,898.52 L688.5,898.54 L689.5,898.56 L690.5,898.57 L691.5,898.59 L692.5,898.6 L693.5,898.62 L694.5,898.63 L695.5,898.65 L696.5,898.66 L697.5,898.68 L698.5,898.69 L699.5,898.71 L700.5,898.72 L701.5,898.73 L702.5,898.75 L703.5,898.76 L704.5,898.77 L705.5,898.78 L706.5,898.8 L707.5,898.81 L708.5,898.82 L709.5,898.83 L710.5,898.84 L711.5,898.86 L712.5,898.87 L713.5,898.88 L714.5,898.89 L715.5,898.9 L716.5,898.91 L717.5,898.92 L718.5,898.93 L719.5,898.94 L720.5,898.96 L721.5,898.97 L722.5,898.98 L723.5,898.99 L724.5,899 L725.5,899.01 L726.5,899.02 L727.5,899.03 L728.5,899.04 L729.5,899.05 L730.5,899.06 L731.5,899.07 L732.5,899.08 L733.5,899.09 L734.5,899.1 L735.5,899.11 L736.5,899.12 L737.5,899.13 L738.5,899.14 L739.5,899.15 L740.5,899.16 L741.5,899.16 L742.5,899.17 L743.5,899.18 L744.5,899.19 L745.5,899.2 L746.5,899.21 L747.5,899.22 L748.5,899.23 L749.5,899.24 L750.5,899.25 L751.5,899.26 L752.5,899.27 L753.5,899.28 L754.5,899.29 L755.5,899.29 L756.5,899.3 L757.5,899.31 L758.5,899.32 L759.5,899.33 L760.5,899.34 L761.5,899.35 L762.5,899.36 L763.5,899.37 L764.5,899.37 L765.5,899.38 L766.5,899.39 L767.5,899.4 L768.5,899.41 L769.5,899.42 L770.5,899.43 L771.5,899.44 L772.5,899.44 L773.5,899.45 L774.5,899.46 L775.5,899.47 L776.5,899.48 L777.5,899.49 L778.5,899.5 L779.5,899.5 L780.5,899.51 L781.5,899.52 L782.5,899.53 L783.5,899.54 L784.5,899.55 L785.5,899.56 L786.5,899.56 L787.5,899.57 L788.5,899.58 L789.5,899.59 L790.5,899.6 L791.5,899.6 L792.5,899.61 L793.5,899.62 L794.5,899.63 L795.5,899.64 L796.5,899.65 L797.5,899.65 L798.5,899.66 L799.5,899.67 L800.5,899.68 L801.5,899.69 L802.5,899.69 L803.5,899.7 L804.5,899.71 L805.5,899.72 L806.5,899.73 L807.5,899.73 L808.5,899.74 L809.5,899.75 L810.5,899.76 L811.5,899.76 L812.5,899.77 L813.5,899.78 L814.5,899.79 L815.5,899.79 L816.5,899.8 L817.5,899.81 L818.5,899.82 L819.5,899.82 L820.5,899.83 L821.5,899.84 L822.5,899.85 L823.5,899.85 L824.5,899.86 L825.5,899.87 L826.5,899.88 L827.5,899.88 L828.5,899.89 L829.5,899.9 L830.5,899.91 L831.5,899.91 L832.5,899.92 L833.5,899.93 L834.5,899.93 L835.5,899.94 L836.5,899.95 L837.5,899.95 L838.5,899.96 L839.5,899.97 L840.5,899.98 L841.5,899.98 L842.5,899.99 L843.5,900 L844.5,900 L845.5,900.01 L846.5,900.02 L847.5,900.02 L848.5,900.03 L849.5,900.04 L850.5,900.04 L851.5,900.05 L852.5,900.06 L853.5,900.06 L854.5,900.07 L855.5,900.08 L856.5,900.08 L857.5,900.09 L858.5,900.1 L859.5,900.1 L860.5,900.11 L861.5,900.11 L862.5,900.12 L863.5,900.13 L864.5,900.13 L865.5,900.14 L866.5,900.15 L867.5,900.15 L868.5,900.16 L869.5,900.16 L870.5,900.17 L871.5,900.18 L872.5,900.18 L873.5,900.19 L874.5,900.19 L875.5,900.2 L876.5,900.21 L877.5,900.21 L878.5,900.22 L879.5,900.22 L880.5,900.23 L881.5,900.23 L882.5,900.24 L883.5,900.25 L884.5,900.25 L885.5,900.26 L886.5,900.26 L887.5,900.27 L888.5,900.27 L889.5,900.28 L890.5,900.28 L891.5,900.29 L892.5,900.3 L893.5,900.3 L894.5,900.31 L895.5,900.31 L896.5,900.32 L897.5,900.32 L898.5,900.33 L899.5,900.33 L900.5,900.34 L901.5,900.34 L902.5,900.35 L903.5,900.35 L904.5,900.36 L905.5,900.36 L906.5,900.37 L907.5,900.37 L908.5,900.38 L909.5,900.38 L910.5,900.39 L911.5,900.39 L912.5,900.4 L913.5,900.4 L914.5,900.41 L915.5,900.41 L916.5,900.42 L917.5,900.42 L918.5,900.43 L919.5,900.43 L920.5,900.44 L921.5,900.44 L922.5,900.44 L923.5,900.45 L924.5,900.45 L925.5,900.46 L926.5,900.46 L927.5,900.47 L928.5,900.47 L929.5,900.48 L930.5,900.48 L931.5,900.48 L932.5,900.49 L933.5,900.49 L934.5,900.5 L935.5,900.5 L936.5,900.51 L937.5,900.51 L938.5,900.51 L939.5,900.52 L940.5,900.52 L941.5,900.53 L942.5,900.53 L943.5,900.53 L944.5,900.54 L945.5,900.54 L946.5,900.55 L947.5,900.55 L948.5,900.55 L949.5,900.56 L950.5,900.56 L951.5,900.57 L952.5,900.57 L953.5,900.57 L954.5,900.58 L955.5,900.58 L956.5,900.58 L957.5,900.59 L958.5,900.59 L959.5,900.59 L960.5,900.6 L961.5,900.6 L962.5,900.61 L963.5,900.61 L964.5,900.61 L965.5,900.62 L966.5,900.62 L967.5,900.62 L968.5,900.63 L969.5,900.63 L970.5,900.63 L971.5,900.64 L972.5,900.64 L973.5,900.64 L974.5,900.65 L975.5,900.65 L976.5,900.65" stroke="#808080" stroke-width="5.4" stroke-linejoin="round"/>
<path d="M182,900.72 L183,900.72 L184,900.72 L185,900.71 L186,900.71 L187,900.7 L188,900.7 L189,900.69 L190,900.69 L191,900.68 L192,900.68 L193,900.67 L194,900.67 L195,900.66 L196,900.66 L197,900.65 L198,900.64 L199,900.64 L200,900.63 L201,900.63 L202,900.62 L203,900.62 L204,900.61 L205,900.6 L206,900.6 L207,900.59 L208,900.58 L209,900.58 L210,900.57 L211,900.56 L212,900.56 L213,900.55 L214,900.54 L215,900.54 L216,900.53 L217,900.52 L218,900.51 L219,900.51 L220,900.5 L221,900.49 L222,900.48 L223,900.48 L224,900.47 L225,900.46 L226,900.45 L227,900.44 L228,900.43 L229,900.42 L230,900.41 L231,900.4 L232,900.4 L233,900.39 L234,900.38 L235,900.37 L236,900.36 L237,900.35 L238,900.33 L239,900.32 L240,900.31 L241,900.3 L242,900.29 L243,900.28 L244,900.27 L245,900.25 L246,900.24 L247,900.23 L248,900.22 L249,900.2 L250,900.19 L251,900.17 L252,900.16 L253,900.14 L254,900.13 L255,900.11 L256,900.1 L257,900.08 L258,900.06 L259,900.05 L260,900.03 L261,900.01 L262,899.99 L263,899.97 L264,899.95 L265,899.93 L266,899.91 L267,899.89 L268,899.87 L269,899.85 L270,899.82 L271,899.8 L272,899.77 L273,899.75 L274,899.72 L275,899.69 L276,899.66 L277,899.63 L278,899.6 L279,899.57 L280,899.54 L281,899.51 L282,899.47 L283,899.43 L284,899.4 L285,899.36 L286,899.32 L287,899.27 L288,899.23 L289,899.18 L290,899.14 L291,899.09 L292,899.04 L293,898.99 L294,898.93 L295,898.87 L296,898.81 L297,898.75 L298,898.69 L299,898.62 L300,898.55 L301,898.48 L302,898.4 L303,898.32 L304,898.24 L305,898.16 L306,898.07 L307,897.98 L308,897.88 L309,897.78 L310,897.68 L311,897.57 L312,897.45 L313,897.33 L314,897.21 L315,897.08 L316,896.95 L317,896.81 L318,896.66 L319,896.51 L320,896.35 L321,896.19 L322,896.01 L323,895.83 L324,895.65 L325,895.45 L326,895.25 L327,895.04 L328,894.82 L329,894.59 L330,894.35 L331,894.1 L332,893.83 L333,893.56 L334,893.28 L335,892.99 L336,892.68 L337,892.36 L338,892.03 L339,891.68 L340,891.32 L341,890.94 L342,890.55 L343,890.14 L344,889.72 L345,889.28 L346,888.82 L347,888.34 L348,887.84 L349,887.32 L350,886.79 L351,886.23 L352,885.65 L353,885.04 L354,884.42 L355,883.76 L356,883.08 L357,882.38 L358,881.65 L359,880.89 L360,880.1 L361,879.28 L362,878.43 L363,877.55 L364,876.64 L365,875.69 L366,874.7 L367,873.68 L368,872.62 L369,871.52 L370,870.39 L371,869.21 L372,867.98 L373,866.72 L374,865.41 L375,864.05 L376,862.64 L377,861.19 L378,859.68 L379,858.12 L380,856.51 L381,854.84 L382,853.12 L383,851.34 L384,849.49 L385,847.59 L386,845.62 L387,843.59 L388,841.49 L389,839.32 L390,837.08 L391,834.77 L392,832.39 L393,829.93 L394,827.4 L395,824.79 L396,822.1 L397,819.33 L398,816.47 L399,813.53 L400,810.51 L401,807.4 L402,804.2 L403,800.9 L404,797.52 L405,794.05 L406,790.48 L407,786.82 L408,783.06 L409,779.2 L410,775.24 L411,771.19 L412,767.04 L413,762.79 L414,758.44 L415,753.98 L416,749.43 L417,744.77 L418,740.02 L419,735.16 L420,730.21 L421,725.15 L422,720 L423,714.75 L424,709.4 L425,703.95 L426,698.41 L427,692.77 L428,687.05 L429,681.23 L430,675.33 L431,669.34 L432,663.26 L433,657.11 L434,650.87 L435,644.56 L436,638.18 L437,631.72 L438,625.2 L439,618.62 L440,611.97 L441,605.26 L442,598.51 L443,591.7 L444,584.84 L445,577.95 L446,571.01 L447,564.04 L448,557.03 L449,550 L450,542.95 L451,535.87 L452,528.79 L453,521.69 L454,514.58 L455,507.47 L456,500.36 L457,493.25 L458,486.15 L459,479.07 L460,471.99 L461,464.94 L462,457.91 L463,450.91 L464,443.94 L465,437 L466,430.09 L467,423.23 L468,416.4 L469,409.63 L470,402.9 L471,396.22 L472,389.59 L473,383.02 L474,376.51 L475,370.06 L476,363.67 L477,357.35 L478,351.09 L479,344.91 L480,338.79 L481,332.75 L482,326.79 L483,320.9 L484,315.09 L485,309.36 L486,303.71 L487,298.14 L488,292.67 L489,287.27 L490,281.97 L491,276.76 L492,271.64 L493,266.61 L494,261.67 L495,256.84 L496,252.1 L497,247.46 L498,242.92 L499,238.48 L500,234.14 L501,229.91 L502,225.79 L503,221.78 L504,217.87 L505,214.08 L506,210.4 L507,206.84 L508,203.39 L509,200.05 L510,196.84 L511,193.74 L512,190.77 L513,187.92 L514,185.2 L515,182.6 L516,180.12 L517,177.78 L518,175.56 L519,173.47 L520,171.52 L521,169.69 L522,168 L523,166.45 L524,165.03 L525,163.74 L526,162.59 L527,161.57 L528,160.69 L529,159.95 L530,159.35 L531,158.88 L532,158.55 L533,158.36 L534,158.31 L535,158.39 L536,158.61 L537,158.96 L538,159.45 L539,160.08 L540,160.83 L541,161.73 L542,162.75 L543,163.9 L544,165.19 L545,166.6 L546,168.14 L547,169.81 L548,171.6 L549,173.51 L550,175.55 L551,177.7 L552,179.97 L553,182.36 L554,184.86 L555,187.48 L556,190.2 L557,193.03 L558,195.97 L559,199.01 L560,202.15 L561,205.39 L562,208.72 L563,212.15 L564,215.67 L565,219.28 L566,222.98 L567,226.76 L568,230.63 L569,234.57 L570,238.59 L571,242.69 L572,246.86 L573,251.09 L574,255.4 L575,259.77 L576,264.2 L577,268.69 L578,273.24 L579,277.84 L580,282.5 L581,287.21 L582,291.96 L583,296.76 L584,301.6 L585,306.49 L586,311.41 L587,316.37 L588,321.36 L589,326.38 L590,331.44 L591,336.52 L592,341.63 L593,346.76 L594,351.92 L595,357.09 L596,362.28 L597,367.49 L598,372.72 L599,377.95 L600,383.2 L601,388.45 L602,393.71 L603,398.98 L604,404.25 L605,409.53 L606,414.8 L607,420.08 L608,425.35 L609,430.62 L610,435.89 L611,441.15 L612,446.4 L613,451.64 L614,456.87 L615,462.1 L616,467.31 L617,472.51 L618,477.69 L619,482.86 L620,488.01 L621,493.14 L622,498.26 L623,503.35 L624,508.43 L625,513.48 L626,518.52 L627,523.53 L628,528.51 L629,533.47 L630,538.41 L631,543.32 L632,548.21 L633,553.06 L634,557.89 L635,562.7 L636,567.47 L637,572.21 L638,576.92 L639,581.6 L640,586.25 L641,590.87 L642,595.46 L643,600.01 L644,604.53 L645,609.01 L646,613.46 L647,617.88 L648,622.26 L649,626.61 L650,630.92 L651,635.19 L652,639.43 L653,643.63 L654,647.79 L655,651.92 L656,656.01 L657,660.06 L658,664.07 L659,668.05 L660,671.98 L661,675.88 L662,679.73 L663,683.55 L664,687.33 L665,691.07 L666,694.77 L667,698.43 L668,702.05 L669,705.62 L670,709.16 L671,712.66 L672,716.12 L673,719.53 L674,722.91 L675,726.24 L676,729.54 L677,732.79 L678,736.01 L679,739.18 L680,742.31 L681,745.4 L682,748.45 L683,751.46 L684,754.43 L685,757.35 L686,760.24 L687,763.09 L688,765.89 L689,768.66 L690,771.39 L691,774.07 L692,776.72 L693,779.32 L694,781.89 L695,784.42 L696,786.91 L697,789.35 L698,791.76 L699,794.14 L700,796.47 L701,798.76 L702,801.02 L703,803.24 L704,805.42 L705,807.56 L706,809.67 L707,811.74 L708,813.77 L709,815.77 L710,817.73 L711,819.66 L712,821.55 L713,823.41 L714,825.23 L715,827.01 L716,828.77 L717,830.49 L718,832.17 L719,833.83 L720,835.45 L721,837.03 L722,838.59 L723,840.12 L724,841.61 L725,843.07 L726,844.5 L727,845.91 L728,847.28 L729,848.62 L730,849.94 L731,851.22 L732,852.48 L733,853.71 L734,854.92 L735,856.09 L736,857.24 L737,858.37 L738,859.46 L739,860.54 L740,861.59 L741,862.61 L742,863.61 L743,864.58 L744,865.54 L745,866.47 L746,867.37 L747,868.26 L748,869.12 L749,869.96 L750,870.78 L751,871.58 L752,872.36 L753,873.13 L754,873.87 L755,874.59 L756,875.29 L757,875.98 L758,876.65 L759,877.3 L760,877.93 L761,878.54 L762,879.14 L763,879.73 L764,880.29 L765,880.85 L766,881.38 L767,881.91 L768,882.41 L769,882.91 L770,883.39 L771,883.86 L772,884.31 L773,884.75 L774,885.18 L775,885.6 L776,886 L777,886.39 L778,886.78 L779,887.15 L780,887.51 L781,887.86 L782,888.2 L783,888.52 L784,888.84 L785,889.15 L786,889.46 L787,889.75 L788,890.03 L789,890.31 L790,890.57 L791,890.83 L792,891.08 L793,891.33 L794,891.56 L795,891.79 L796,892.01 L797,892.23 L798,892.44 L799,892.64 L800,892.84 L801,893.03 L802,893.21 L803,893.39 L804,893.56 L805,893.73 L806,893.9 L807,894.05 L808,894.21 L809,894.36 L810,894.5 L811,894.64 L812,894.78 L813,894.91 L814,895.03 L815,895.16 L816,895.28 L817,895.39 L818,895.51 L819,895.62 L820,895.72 L821,895.83 L822,895.93 L823,896.02 L824,896.12 L825,896.21 L826,896.3 L827,896.38 L828,896.47 L829,896.55 L830,896.63 L831,896.7 L832,896.78 L833,896.85 L834,896.92 L835,896.99 L836,897.06 L837,897.12 L838,897.19 L839,897.25 L840,897.31 L841,897.37 L842,897.42 L843,897.48 L844,897.53 L845,897.59 L846,897.64 L847,897.69 L848,897.74 L849,897.78 L850,897.83 L851,897.88 L852,897.92 L853,897.96 L854,898.01 L855,898.05 L856,898.09 L857,898.13 L858,898.17 L859,898.2 L860,898.24 L861,898.28 L862,898.31 L863,898.35 L864,898.38 L865,898.42 L866,898.45 L867,898.48 L868,898.51 L869,898.55 L870,898.58 L871,898.61 L872,898.64 L873,898.67 L874,898.69 L875,898.72 L876,898.75 L877,898.78 L878,898.8 L879,898.83 L880,898.86 L881,898.88 L882,898.91 L883,898.93 L884,898.96 L885,898.98 L886,899 L887,899.03 L888,899.05 L889,899.07 L890,899.1 L891,899.12 L892,899.14 L893,899.16 L894,899.18 L895,899.21 L896,899.23 L897,899.25 L898,899.27 L899,899.29 L900,899.31 L901,899.33 L902,899.35 L903,899.37 L904,899.39 L905,899.4 L906,899.42 L907,899.44 L908,899.46 L909,899.48 L910,899.5 L911,899.51 L912,899.53 L913,899.55 L914,899.57 L915,899.58 L916,899.6 L917,899.62 L918,899.63 L919,899.65 L920,899.66 L921,899.68 L922,899.7 L923,899.71 L924,899.73 L925,899.74 L926,899.76 L927,899.77 L928,899.79 L929,899.8 L930,899.82 L931,899.83 L932,899.85 L933,899.86 L934,899.87 L935,899.89 L936,899.9 L937,899.91 L938,899.93 L939,899.94 L940,899.95 L941,899.97 L942,899.98 L943,899.99 L944,900.01 L945,900.02 L946,900.03 L947,900.04 L948,900.06 L949,900.07 L950,900.08 L951,900.09 L952,900.1 L953,900.11 L954,900.13 L955,900.14 L956,900.15 L957,900.16 L958,900.17 L959,900.18 L960,900.19 L961,900.2 L962,900.21 L963,900.22 L964,900.23 L965,900.24 L966,900.25 L967,900.26 L968,900.27 L969,900.28 L970,900.29 L971,900.3 L972,900.31 L973,900.32 L974,900.33 L975,900.34 L976,900.35" stroke="#009860" stroke-width="5.4" stroke-linejoin="round"/>
<path d="M476.1,901 V470.51" stroke="#e03424" stroke-width="2.8" stroke-dasharray="10.62 4.6"/>
<path d="M630.5,901 V466.52" stroke="#e03424" stroke-width="2.8" stroke-dasharray="10.62 4.6"/>
<path d="M394,901 V424.84" stroke="#0070ea" stroke-width="2.8" stroke-dasharray="10.62 4.6"/>
<path d="M534.4,901 V425.3" stroke="#0070ea" stroke-width="2.8" stroke-dasharray="10.62 4.6"/>
<path d="M302.5,901 V392.21" stroke="#808080" stroke-width="2.8" stroke-dasharray="10.62 4.6"/>
<path d="M431.6,901 V384.87" stroke="#808080" stroke-width="2.8" stroke-dasharray="10.62 4.6"/>
<path d="M464.6,901 V439.77" stroke="#009860" stroke-width="2.8" stroke-dasharray="10.62 4.6"/>
<path d="M612.2,901 V447.45" stroke="#009860" stroke-width="2.8" stroke-dasharray="10.62 4.6"/>
</g>
<g clip-path="url(#cr)" fill="none">
<path d="M1091.4,786.89 L1092.9,787.02 L1094.4,787.15 L1095.9,787.28 L1097.4,787.4 L1098.9,787.53 L1100.4,787.65 L1101.9,787.77 L1103.4,787.89 L1104.9,788.01 L1106.4,788.12 L1107.9,788.23 L1109.4,788.34 L1110.9,788.45 L1112.4,788.56 L1113.9,788.66 L1115.4,788.76 L1116.9,788.86 L1118.4,788.95 L1119.9,789.04 L1121.4,789.13 L1122.9,789.22 L1124.4,789.3 L1125.9,789.38 L1127.4,789.46 L1128.9,789.53 L1130.4,789.6 L1131.9,789.66 L1133.4,789.72 L1134.9,789.78 L1136.4,789.84 L1137.9,789.89 L1139.4,789.93 L1140.9,789.97 L1142.4,790.01 L1143.9,790.04 L1145.4,790.07 L1146.9,790.09 L1148.4,790.11 L1149.9,790.12 L1151.4,790.13 L1152.9,790.13 L1154.4,790.13 L1155.9,790.12 L1157.4,790.11 L1158.9,790.09 L1160.4,790.07 L1161.9,790.04 L1163.4,790.01 L1164.9,789.96 L1166.4,789.92 L1167.9,789.87 L1169.4,789.81 L1170.9,789.75 L1172.4,789.69 L1173.9,789.62 L1175.4,789.55 L1176.9,789.48 L1178.4,789.4 L1179.9,789.32 L1181.4,789.24 L1182.9,789.16 L1184.4,789.07 L1185.9,788.99 L1187.4,788.9 L1188.9,788.82 L1190.4,788.73 L1191.9,788.64 L1193.4,788.56 L1194.9,788.47 L1196.4,788.39 L1197.9,788.31 L1199.4,788.23 L1200.9,788.15 L1202.4,788.07 L1203.9,788 L1205.4,787.93 L1206.9,787.87 L1208.4,787.8 L1209.9,787.75 L1211.4,787.69 L1212.9,787.64 L1214.4,787.6 L1215.9,787.56 L1217.4,787.52 L1218.9,787.49 L1220.4,787.46 L1221.9,787.44 L1223.4,787.42 L1224.9,787.4 L1226.4,787.39 L1227.9,787.38 L1229.4,787.37 L1230.9,787.36 L1232.4,787.36 L1233.9,787.36 L1235.4,787.37 L1236.9,787.37 L1238.4,787.38 L1239.9,787.39 L1241.4,787.41 L1242.9,787.42 L1244.4,787.44 L1245.9,787.45 L1247.4,787.47 L1248.9,787.5 L1250.4,787.52 L1251.9,787.54 L1253.4,787.57 L1254.9,787.59 L1256.4,787.62 L1257.9,787.64 L1259.4,787.67 L1260.9,787.7 L1262.4,787.73 L1263.9,787.75 L1265.4,787.78 L1266.9,787.81 L1268.4,787.84 L1269.9,787.86 L1271.4,787.89 L1272.9,787.91 L1274.4,787.94 L1275.9,787.96 L1277.4,787.98 L1278.9,788 L1280.4,788.02 L1281.9,788.04 L1283.4,788.06 L1284.9,788.07 L1286.4,788.08 L1287.9,788.09 L1289.4,788.1 L1290.9,788.11 L1292.4,788.11 L1293.9,788.11 L1295.4,788.11 L1296.9,788.1 L1298.4,788.09 L1299.9,788.08 L1301.4,788.07 L1302.9,788.05 L1304.4,788.03 L1305.9,788 L1307.4,787.97 L1308.9,787.94 L1310.4,787.9 L1311.9,787.86 L1313.4,787.82 L1314.9,787.77 L1316.4,787.72 L1317.9,787.67 L1319.4,787.62 L1320.9,787.56 L1322.4,787.51 L1323.9,787.45 L1325.4,787.39 L1326.9,787.33 L1328.4,787.27 L1329.9,787.21 L1331.4,787.15 L1332.9,787.09 L1334.4,787.03 L1335.9,786.98 L1337.4,786.92 L1338.9,786.87 L1340.4,786.81 L1341.9,786.76 L1343.4,786.71 L1344.9,786.67 L1346.4,786.63 L1347.9,786.59 L1349.4,786.55 L1350.9,786.52 L1352.4,786.49 L1353.9,786.47 L1355.4,786.45 L1356.9,786.43 L1358.4,786.42 L1359.9,786.42 L1361.4,786.42 L1362.9,786.42 L1364.4,786.43 L1365.9,786.44 L1367.4,786.46 L1368.9,786.48 L1370.4,786.49 L1371.9,786.51 L1373.4,786.53 L1374.9,786.55 L1376.4,786.57 L1377.9,786.58 L1379.4,786.6 L1380.9,786.61 L1382.4,786.62 L1383.9,786.62 L1385.4,786.62 L1386.9,786.62 L1388.4,786.62 L1389.9,786.61 L1391.4,786.6 L1392.9,786.59 L1394.4,786.57 L1395.9,786.55 L1397.4,786.53 L1398.9,786.51 L1400.4,786.48 L1401.9,786.45 L1403.4,786.43 L1404.9,786.39 L1406.4,786.36 L1407.9,786.33 L1409.4,786.29 L1410.9,786.25 L1412.4,786.22 L1413.9,786.18 L1415.4,786.14 L1416.9,786.1 L1418.4,786.05 L1419.9,786.01 L1421.4,785.97 L1422.9,785.93 L1424.4,785.88 L1425.9,785.84 L1427.4,785.8 L1428.9,785.76 L1430.4,785.71 L1431.9,785.67 L1433.4,785.63 L1434.9,785.59 L1436.4,785.55 L1437.9,785.51 L1439.4,785.47 L1440.9,785.44 L1442.4,785.4 L1443.9,785.37 L1445.4,785.33 L1446.9,785.3 L1448.4,785.26 L1449.9,785.23 L1451.4,785.19 L1452.9,785.16 L1454.4,785.13 L1455.9,785.09 L1457.4,785.06 L1458.9,785.02 L1460.4,784.99 L1461.9,784.95 L1463.4,784.92 L1464.9,784.88 L1466.4,784.84 L1467.9,784.8 L1469.4,784.76 L1470.9,784.72 L1472.4,784.68 L1473.9,784.63 L1475.4,784.59 L1476.9,784.54 L1478.4,784.49 L1479.9,784.44 L1481.4,784.39 L1482.9,784.33 L1484.4,784.28 L1485.9,784.22 L1487.4,784.16 L1488.9,784.09 L1490.4,784.02 L1491.9,783.95 L1493.4,783.88 L1494.9,783.81 L1496.4,783.73 L1497.9,783.64 L1499.4,783.56 L1500.9,783.47 L1502.4,783.38 L1503.9,783.28 L1505.4,783.18 L1506.9,783.07 L1508.4,782.96 L1509.9,782.85 L1511.4,782.73 L1512.9,782.61 L1514.4,782.48 L1515.9,782.35 L1517.4,782.21 L1518.9,782.07 L1520.4,781.92 L1521.9,781.76 L1523.4,781.59 L1524.9,781.42 L1526.4,781.26 L1527.9,781.09 L1529.4,780.92 L1530.9,780.74 L1532.4,780.57 L1533.9,780.4 L1535.4,780.23 L1536.9,780.06 L1538.4,779.89 L1539.9,779.72 L1541.4,779.55 L1542.9,779.38 L1544.4,779.22 L1545.9,779.06 L1547.4,778.9 L1548.9,778.75 L1550.4,778.6 L1551.9,778.46 L1553.4,778.32 L1554.9,778.18 L1556.4,778.06 L1557.9,777.93 L1559.4,777.82 L1560.9,777.66 L1562.4,777.47 L1563.9,777.27 L1565.4,777.06 L1566.9,776.85 L1568.4,776.64 L1569.9,776.42 L1571.4,776.2 L1572.9,775.97 L1574.4,775.74 L1575.9,775.51 L1577.4,775.26 L1578.9,775.02 L1580.4,774.76 L1581.9,774.5 L1583.4,774.24 L1584.9,773.97 L1586.4,773.7 L1587.9,773.42 L1589.4,773.13 L1590.9,772.84 L1592.4,772.54 L1593.9,772.24 L1595.4,771.93 L1596.9,771.61 L1598.4,771.29 L1599.9,770.96 L1601.4,770.62 L1602.9,770.28 L1604.4,769.94 L1605.9,769.58 L1607.4,769.22 L1608.9,768.85 L1610.4,768.48 L1611.9,768.1 L1613.4,767.72 L1614.9,767.32 L1616.4,766.92 L1617.9,766.52 L1619.4,766.1 L1620.9,765.68 L1622.4,765.26 L1623.9,764.82 L1625.4,764.38 L1626.9,763.94 L1628.4,763.49 L1629.9,763.03 L1631.4,762.56 L1632.9,762.09 L1634.4,761.61 L1635.9,761.12 L1637.4,760.63 L1638.9,760.14 L1640.4,759.63 L1641.9,759.12 L1643.4,758.61 L1644.9,758.08 L1646.4,757.56 L1647.9,757.02 L1649.4,756.49 L1650.9,755.94 L1652.4,755.39 L1653.9,754.84 L1655.4,754.28 L1656.9,753.72 L1658.4,753.15 L1659.9,752.57 L1661.4,752 L1662.9,751.42 L1664.4,750.83 L1665.9,750.24 L1667.4,749.65 L1668.9,749.05 L1670.4,748.45 L1671.9,747.85 L1673.4,747.24 L1674.9,746.64 L1676.4,746.03 L1677.9,745.41 L1679.4,744.8 L1680.9,744.18 L1682.4,743.57 L1683.9,742.95 L1685.4,742.33 L1686.9,741.71 L1688.4,741.08 L1689.9,740.46 L1691.4,739.84 L1692.9,739.21 L1694.4,738.59 L1695.9,737.96 L1697.4,737.33 L1698.9,736.7 L1700.4,736.07 L1701.9,735.44 L1703.4,734.81 L1704.9,734.17 L1706.4,733.53 L1707.9,732.89 L1709.4,732.24 L1710.9,731.58 L1712.4,730.92 L1713.9,730.25 L1715.4,729.57 L1716.9,728.87 L1718.4,728.17 L1719.9,727.44 L1721.4,726.7 L1722.9,725.93 L1724.4,725.14 L1725.9,724.31 L1727.4,723.46 L1728.9,722.56 L1730.4,721.63 L1731.9,720.64 L1733.4,719.6 L1734.9,718.5 L1736.4,717.34 L1737.9,716.1 L1739.4,714.78 L1740.9,713.37 L1742.4,711.86 L1743.9,710.25 L1744.9,709.1 L1745.9,707.91 L1746.9,706.66 L1747.9,705.34 L1748.9,703.97 L1749.9,702.52 L1750.9,701.01 L1751.9,699.42 L1752.9,697.76 L1753.9,696.02 L1754.9,694.19 L1755.9,692.28 L1756.9,690.28 L1757.9,688.18 L1758.9,685.99 L1759.9,683.7 L1760.9,681.31 L1761.9,678.81 L1762.9,676.2 L1763.9,673.48 L1764.9,670.65 L1765.4,669.19 L1765.9,667.7 L1766.4,666.18 L1766.9,664.63 L1767.4,663.05 L1767.9,661.44 L1768.4,659.8 L1768.9,658.13 L1769.4,656.43 L1769.9,654.69 L1770.4,652.92 L1770.9,651.13 L1771.4,649.3 L1771.9,647.43 L1772.4,645.54 L1772.9,643.61 L1773.4,641.65 L1773.9,639.66 L1774.4,637.64 L1774.9,635.58 L1775.4,633.49 L1775.9,631.37 L1776.4,629.21 L1776.9,627.03 L1777.4,624.81 L1777.9,622.56 L1778.4,620.27 L1778.9,617.96 L1779.4,615.61 L1779.9,613.23 L1780.4,610.83 L1780.9,608.39 L1781.4,605.91 L1781.9,603.41 L1782.4,600.88 L1782.9,598.32 L1783.4,595.73 L1783.9,593.11 L1784.4,590.47 L1784.9,587.79 L1785.4,585.09 L1785.9,582.36 L1786.4,579.61 L1786.9,576.83 L1787.4,574.03 L1787.9,571.2 L1788.4,568.34 L1788.9,565.47 L1789.4,562.57 L1789.9,559.66 L1790.4,556.72 L1790.9,553.76 L1791.4,550.78 L1791.9,547.79 L1792.4,544.78 L1792.9,541.75 L1793.4,538.71 L1793.9,535.66 L1794.4,532.59 L1794.9,529.51 L1795.4,526.42 L1795.9,523.32 L1796.4,520.21 L1796.9,517.09 L1797.4,513.97 L1797.9,510.84 L1798.4,507.71 L1798.9,504.58 L1799.4,501.44 L1799.9,498.31 L1800.4,495.17 L1800.9,492.04 L1801.4,488.91 L1801.9,485.79 L1802.4,482.67 L1802.9,479.56 L1803.4,476.46 L1803.9,473.37 L1804.4,470.28 L1804.9,467.21 L1805.4,464.16 L1805.9,461.12 L1806.4,458.09 L1806.9,455.08 L1807.4,452.09 L1807.9,449.12 L1808.4,446.16 L1808.9,443.23 L1809.4,440.32 L1809.9,437.43 L1810.4,434.57 L1810.9,431.73 L1811.4,428.92 L1811.9,426.13 L1812.4,423.37 L1812.9,420.64 L1813.4,417.93 L1813.9,415.26 L1814.4,412.61 L1814.9,410 L1815.4,407.41 L1815.9,404.86 L1816.4,402.34 L1816.9,399.84 L1817.4,397.39 L1817.9,394.96 L1818.4,392.57 L1818.9,390.21 L1819.4,387.89 L1819.9,385.6 L1820.4,383.35 L1820.9,381.13 L1821.4,378.95 L1821.9,376.81 L1822.4,374.71 L1822.9,372.65 L1823.4,370.62 L1823.9,368.64 L1824.4,366.71 L1824.9,364.81 L1825.4,362.97 L1825.9,361.17 L1826.4,359.42 L1826.9,357.72 L1827.4,356.08 L1827.9,354.49 L1828.4,352.96 L1828.9,351.49 L1829.9,348.75 L1830.9,346.27 L1831.9,344.1 L1832.9,342.24 L1833.9,340.72 L1834.9,339.56 L1836.4,338.55 L1837.9,338.45 L1839.4,339.3 L1840.9,341.11 L1841.9,342.86 L1842.9,345.02 L1843.9,347.59 L1844.4,349.02 L1844.9,350.55 L1845.4,352.17 L1845.9,353.87 L1846.4,355.66 L1846.9,357.53 L1847.4,359.48 L1847.9,361.51 L1848.4,363.6 L1848.9,365.76 L1849.4,367.99 L1849.9,370.27 L1850.4,372.61 L1850.9,375 L1851.4,377.44 L1851.9,379.92 L1852.4,382.44 L1852.9,385 L1853.4,387.59 L1853.9,390.21 L1854.4,392.86 L1854.9,395.53 L1855.4,398.23 L1855.9,400.94 L1856.4,403.68 L1856.9,406.42 L1857.4,409.18 L1857.9,411.96 L1858.4,414.74 L1858.9,417.53 L1859.4,420.33 L1859.9,423.14 L1860.4,425.95 L1860.9,428.77 L1861.4,431.59 L1861.9,434.42 L1862.4,437.26 L1862.9,440.1 L1863.4,442.95 L1863.9,445.8 L1864.4,448.66 L1864.9,451.53 L1865.4,454.41 L1865.9,457.29 L1866.4,460.19 L1866.9,463.1 L1867.4,466.02 L1867.9,468.96 L1868.4,471.91 L1868.9,474.88 L1869.4,477.87 L1869.9,480.88 L1870.4,483.91 L1870.9,486.97 L1871.4,490.05 L1871.9,493.17 L1872.4,496.31 L1872.9,499.49 L1873.4,502.7 L1873.9,505.96 L1874.4,509.25 L1874.9,512.58 L1875.4,515.96 L1875.9,519.39 L1876.4,522.87 L1876.9,526.39 L1877.4,529.98 L1877.9,533.62 L1878.4,537.32 L1878.9,541.07 L1879.4,544.89 L1879.9,548.77 L1880.4,552.72 L1880.9,556.72 L1881.4,560.79 L1881.9,564.93 L1882.4,569.12 L1882.9,573.38 L1883.4,577.69 L1883.9,582.06 L1884.4,586.48 L1884.9,590.94 L1885.4,595.46 L1885.9,600 L1886.4,604.59 L1886.9,609.19 L1887.4,613.82 L1887.9,618.47 L1888.4,623.11 L1888.9,627.76 L1889.4,632.4 L1889.9,637.02 L1890.4,641.62 L1890.9,646.19 L1891.4,650.72 L1891.9,655.21 L1892.4,659.65 L1892.9,664.03 L1893.4,668.36 L1893.9,672.62 L1894.4,676.81 L1894.9,680.93 L1895.4,684.98 L1895.9,688.95 L1896.4,692.84 L1896.9,696.65 L1897.4,700.39 L1897.9,704.04 L1898.4,707.62 L1898.9,711.12 L1899.4,714.54 L1899.9,717.89 L1900.4,721.16 L1900.9,724.36 L1901.4,727.49 L1901.9,730.55 L1902.4,733.55 L1902.9,736.48 L1903.4,739.35 L1903.9,742.16 L1904.4,744.91 L1904.9,747.61 L1905.4,750.26 L1905.9,752.85 L1906.4,755.4 L1906.9,757.9 L1907.4,760.36 L1907.9,762.77 L1908.4,765.14 L1908.9,767.48 L1909.4,769.77 L1909.9,772.03 L1910.4,774.25 L1910.9,776.44 L1911.4,778.59 L1911.9,780.71 L1912.4,782.81 L1912.9,784.87 L1913.4,786.9 L1913.9,788.9 L1914.4,790.88 L1914.9,792.83 L1915.4,794.75 L1915.9,796.64 L1916.4,798.51 L1916.9,800.36 L1917.4,802.18 L1917.9,803.97 L1918.4,805.75 L1918.9,807.49 L1919.4,809.22 L1919.9,810.92 L1920.4,812.6 L1920.9,814.26 L1921.4,815.89 L1921.9,817.5 L1922.4,819.09 L1922.9,820.65 L1923.4,822.2 L1923.9,823.72 L1924.4,825.22 L1924.9,826.7 L1925.4,828.15 L1925.9,829.59 L1926.9,832.39 L1927.9,835.11 L1928.9,837.75 L1929.9,840.3 L1930.9,842.77 L1931.9,845.15 L1932.9,847.46 L1933.9,849.68 L1934.9,851.82 L1935.9,853.88 L1936.9,855.87 L1937.9,857.78 L1938.9,859.61 L1939.9,861.37 L1940.9,863.05 L1941.9,864.67 L1942.9,866.22 L1943.9,867.7 L1944.9,869.11 L1945.9,870.46 L1946.9,871.75 L1947.9,872.98 L1948.9,874.16 L1950.4,875.81 L1951.9,877.35 L1953.4,878.77 L1954.9,880.09 L1956.4,881.31 L1957.9,882.44 L1959.4,883.49 L1960.9,884.45 L1962.4,885.35 L1963.9,886.17 L1965.4,886.94 L1966.9,887.64 L1968.4,888.3 L1969.9,888.91 L1971.4,889.47 L1972.9,890 L1974.4,890.49 L1975.9,890.95 L1977.4,891.37 L1978.9,891.78 L1980.4,892.15 L1981.9,892.51 L1983.4,892.84 L1984.9,893.16 L1986.4,893.46 L1987.9,893.75 L1989.4,894.02 L1990.9,894.28 L1992.4,894.53 L1993.9,894.76 L1995.4,894.99 L1996.9,895.21 L1998.4,895.42 L1999.9,895.62 L2001.4,895.82 L2002.9,896.01 L2004.4,896.19 L2005.9,896.36 L2007.4,896.53 L2008.9,896.7 L2010.4,896.85 L2011.9,897.01 L2013.4,897.15 L2014.9,897.3 L2016.4,897.44 L2017.9,897.57 L2019.4,897.7 L2020.9,897.82 L2022.4,897.94 L2023.9,898.06 L2025.4,898.17 L2026.9,898.28 L2028.4,898.39 L2029.9,898.49 L2031.4,898.59 L2032.9,898.68 L2034.4,898.78 L2035.9,898.87 L2037.4,898.95 L2038.9,899.03 L2040.4,899.11 L2041.9,899.19 L2043.4,899.26 L2044.9,899.34 L2046.4,899.4 L2047.9,899.47 L2049.4,899.53 L2050.9,899.6 L2052.4,899.66 L2053.9,899.71 L2055.4,899.77 L2056.9,899.82 L2058.4,899.87 L2059.9,899.92 L2061.4,899.97 L2062.9,900.01 L2064.4,900.05 L2065.9,900.1 L2067.4,900.14 L2068.9,900.17 L2069.9,900.2" stroke="#e03424" stroke-width="5.4" stroke-linejoin="round"/>
<path d="M1091.4,803.98 L1092.9,804.16 L1094.4,804.32 L1095.9,804.46 L1097.4,804.58 L1098.9,804.67 L1100.4,804.74 L1101.9,804.79 L1103.4,804.83 L1104.9,804.84 L1106.4,804.84 L1107.9,804.83 L1109.4,804.8 L1110.9,804.76 L1112.4,804.7 L1113.9,804.64 L1115.4,804.56 L1116.9,804.48 L1118.4,804.39 L1119.9,804.29 L1121.4,804.18 L1122.9,804.08 L1124.4,803.96 L1125.9,803.85 L1127.4,803.73 L1128.9,803.62 L1130.4,803.5 L1131.9,803.39 L1133.4,803.28 L1134.9,803.18 L1136.4,803.08 L1137.9,802.98 L1139.4,802.89 L1140.9,802.82 L1142.4,802.75 L1143.9,802.69 L1145.4,802.64 L1146.9,802.61 L1148.4,802.59 L1149.9,802.57 L1151.4,802.57 L1152.9,802.58 L1154.4,802.59 L1155.9,802.62 L1157.4,802.65 L1158.9,802.68 L1160.4,802.73 L1161.9,802.78 L1163.4,802.83 L1164.9,802.89 L1166.4,802.95 L1167.9,803.02 L1169.4,803.09 L1170.9,803.16 L1172.4,803.23 L1173.9,803.31 L1175.4,803.38 L1176.9,803.46 L1178.4,803.53 L1179.9,803.6 L1181.4,803.67 L1182.9,803.74 L1184.4,803.8 L1185.9,803.86 L1187.4,803.92 L1188.9,803.97 L1190.4,804.02 L1191.9,804.06 L1193.4,804.09 L1194.9,804.12 L1196.4,804.13 L1197.9,804.15 L1199.4,804.15 L1200.9,804.16 L1202.4,804.15 L1203.9,804.14 L1205.4,804.13 L1206.9,804.11 L1208.4,804.09 L1209.9,804.06 L1211.4,804.03 L1212.9,804 L1214.4,803.97 L1215.9,803.93 L1217.4,803.89 L1218.9,803.85 L1220.4,803.81 L1221.9,803.77 L1223.4,803.72 L1224.9,803.68 L1226.4,803.64 L1227.9,803.59 L1229.4,803.55 L1230.9,803.51 L1232.4,803.47 L1233.9,803.43 L1235.4,803.39 L1236.9,803.35 L1238.4,803.32 L1239.9,803.29 L1241.4,803.27 L1242.9,803.24 L1244.4,803.22 L1245.9,803.21 L1247.4,803.2 L1248.9,803.19 L1250.4,803.19 L1251.9,803.19 L1253.4,803.2 L1254.9,803.21 L1256.4,803.22 L1257.9,803.24 L1259.4,803.26 L1260.9,803.28 L1262.4,803.3 L1263.9,803.33 L1265.4,803.35 L1266.9,803.38 L1268.4,803.41 L1269.9,803.44 L1271.4,803.47 L1272.9,803.5 L1274.4,803.52 L1275.9,803.55 L1277.4,803.58 L1278.9,803.6 L1280.4,803.63 L1281.9,803.65 L1283.4,803.67 L1284.9,803.68 L1286.4,803.7 L1287.9,803.71 L1289.4,803.71 L1290.9,803.72 L1292.4,803.72 L1293.9,803.71 L1295.4,803.71 L1296.9,803.7 L1298.4,803.68 L1299.9,803.67 L1301.4,803.65 L1302.9,803.63 L1304.4,803.6 L1305.9,803.58 L1307.4,803.55 L1308.9,803.52 L1310.4,803.49 L1311.9,803.46 L1313.4,803.43 L1314.9,803.39 L1316.4,803.36 L1317.9,803.32 L1319.4,803.28 L1320.9,803.25 L1322.4,803.21 L1323.9,803.17 L1325.4,803.13 L1326.9,803.1 L1328.4,803.06 L1329.9,803.03 L1331.4,802.99 L1332.9,802.96 L1334.4,802.92 L1335.9,802.89 L1337.4,802.86 L1338.9,802.83 L1340.4,802.81 L1341.9,802.78 L1343.4,802.76 L1344.9,802.74 L1346.4,802.72 L1347.9,802.7 L1349.4,802.69 L1350.9,802.67 L1352.4,802.66 L1353.9,802.65 L1355.4,802.63 L1356.9,802.62 L1358.4,802.62 L1359.9,802.61 L1361.4,802.6 L1362.9,802.59 L1364.4,802.59 L1365.9,802.59 L1367.4,802.58 L1368.9,802.58 L1370.4,802.58 L1371.9,802.57 L1373.4,802.57 L1374.9,802.57 L1376.4,802.57 L1377.9,802.57 L1379.4,802.56 L1380.9,802.56 L1382.4,802.56 L1383.9,802.56 L1385.4,802.55 L1386.9,802.55 L1388.4,802.55 L1389.9,802.54 L1391.4,802.54 L1392.9,802.53 L1394.4,802.53 L1395.9,802.52 L1397.4,802.51 L1398.9,802.5 L1400.4,802.49 L1401.9,802.48 L1403.4,802.47 L1404.9,802.45 L1406.4,802.44 L1407.9,802.42 L1409.4,802.4 L1410.9,802.38 L1412.4,802.36 L1413.9,802.34 L1415.4,802.31 L1416.9,802.28 L1418.4,802.25 L1419.9,802.22 L1421.4,802.18 L1422.9,802.15 L1424.4,802.11 L1425.9,802.06 L1427.4,802.02 L1428.9,801.97 L1430.4,801.92 L1431.9,801.87 L1433.4,801.81 L1434.9,801.75 L1436.4,801.69 L1437.9,801.62 L1439.4,801.55 L1440.9,801.48 L1442.4,801.4 L1443.9,801.32 L1445.4,801.24 L1446.9,801.15 L1448.4,801.06 L1449.9,800.97 L1451.4,800.87 L1452.9,800.77 L1454.4,800.66 L1455.9,800.55 L1457.4,800.43 L1458.9,800.31 L1460.4,800.19 L1461.9,800.06 L1463.4,799.93 L1464.9,799.79 L1466.4,799.65 L1467.9,799.5 L1469.4,799.35 L1470.9,799.2 L1472.4,799.05 L1473.9,798.89 L1475.4,798.73 L1476.9,798.57 L1478.4,798.4 L1479.9,798.24 L1481.4,798.07 L1482.9,797.9 L1484.4,797.73 L1485.9,797.56 L1487.4,797.39 L1488.9,797.22 L1490.4,797.05 L1491.9,796.88 L1493.4,796.71 L1494.9,796.54 L1496.4,796.37 L1497.9,796.2 L1499.4,796.04 L1500.9,795.87 L1502.4,795.71 L1503.9,795.55 L1505.4,795.39 L1506.9,795.23 L1508.4,795.08 L1509.9,794.93 L1511.4,794.78 L1512.9,794.64 L1514.4,794.5 L1515.9,794.36 L1517.4,794.23 L1518.9,794.1 L1520.4,793.99 L1521.9,793.88 L1523.4,793.77 L1524.9,793.66 L1526.4,793.55 L1527.9,793.44 L1529.4,793.32 L1530.9,793.19 L1532.4,793.06 L1533.9,792.92 L1535.4,792.77 L1536.9,792.62 L1538.4,792.45 L1539.9,792.27 L1541.4,792.08 L1542.9,791.87 L1544.4,791.65 L1545.9,791.41 L1547.4,791.15 L1548.9,790.88 L1550.4,790.58 L1551.9,790.26 L1553.4,789.91 L1554.9,789.54 L1556.4,789.15 L1557.9,788.72 L1559.4,788.26 L1560.9,787.89 L1562.4,787.58 L1563.9,787.27 L1565.4,786.95 L1566.9,786.62 L1568.4,786.29 L1569.9,785.96 L1571.4,785.61 L1572.9,785.26 L1574.4,784.9 L1575.9,784.54 L1577.4,784.16 L1578.9,783.78 L1580.4,783.4 L1581.9,783 L1583.4,782.6 L1584.9,782.18 L1586.4,781.76 L1587.9,781.33 L1589.4,780.9 L1590.9,780.45 L1592.4,779.99 L1593.9,779.53 L1595.4,779.05 L1596.9,778.57 L1598.4,778.07 L1599.9,777.57 L1601.4,777.05 L1602.9,776.53 L1604.4,775.99 L1605.9,775.44 L1607.4,774.88 L1608.9,774.32 L1610.4,773.73 L1611.9,773.14 L1613.4,772.54 L1614.9,771.93 L1616.4,771.3 L1617.9,770.66 L1619.4,770.01 L1620.9,769.35 L1622.4,768.68 L1623.9,767.99 L1625.4,767.29 L1626.9,766.58 L1628.4,765.86 L1629.9,765.12 L1631.4,764.38 L1632.9,763.62 L1634.4,762.85 L1635.9,762.07 L1637.4,761.27 L1638.9,760.46 L1640.4,759.65 L1641.9,758.82 L1643.4,757.97 L1644.9,757.12 L1646.4,756.26 L1647.9,755.38 L1649.4,754.49 L1650.9,753.6 L1652.4,752.69 L1653.9,751.77 L1655.4,750.84 L1656.9,749.89 L1658.4,748.94 L1659.9,747.98 L1661.4,747 L1662.9,746.02 L1664.4,745.02 L1665.9,744.01 L1667.4,742.99 L1668.9,741.96 L1670.4,740.91 L1671.9,739.85 L1673.4,738.77 L1674.9,737.68 L1676.4,736.57 L1677.9,735.44 L1679.4,734.28 L1680.9,733.11 L1682.4,731.91 L1683.9,730.67 L1685.4,729.41 L1686.9,728.11 L1688.4,726.77 L1689.9,725.38 L1691.4,723.95 L1692.9,722.45 L1694.4,720.9 L1695.9,719.28 L1696.9,718.15 L1697.9,716.99 L1698.9,715.79 L1699.9,714.55 L1700.9,713.26 L1701.9,711.93 L1702.9,710.55 L1703.9,709.11 L1704.9,707.62 L1705.9,706.06 L1706.9,704.45 L1707.9,702.76 L1708.9,701 L1709.9,699.17 L1710.9,697.26 L1711.9,695.26 L1712.9,693.18 L1713.9,691 L1714.9,688.73 L1715.9,686.36 L1716.9,683.87 L1717.9,681.28 L1718.9,678.57 L1719.9,675.74 L1720.4,674.28 L1720.9,672.79 L1721.4,671.26 L1721.9,669.7 L1722.4,668.11 L1722.9,666.48 L1723.4,664.82 L1723.9,663.12 L1724.4,661.39 L1724.9,659.61 L1725.4,657.81 L1725.9,655.96 L1726.4,654.07 L1726.9,652.15 L1727.4,650.19 L1727.9,648.18 L1728.4,646.14 L1728.9,644.05 L1729.4,641.92 L1729.9,639.75 L1730.4,637.54 L1730.9,635.29 L1731.4,632.99 L1731.9,630.64 L1732.4,628.25 L1732.9,625.82 L1733.4,623.34 L1733.9,620.82 L1734.4,618.25 L1734.9,615.63 L1735.4,612.97 L1735.9,610.26 L1736.4,607.5 L1736.9,604.7 L1737.4,601.84 L1737.9,598.94 L1738.4,596 L1738.9,593 L1739.4,589.96 L1739.9,586.86 L1740.4,583.72 L1740.9,580.53 L1741.4,577.29 L1741.9,574.01 L1742.4,570.67 L1742.9,567.29 L1743.4,563.86 L1743.9,560.38 L1744.4,556.85 L1744.9,553.28 L1745.4,549.66 L1745.9,545.99 L1746.4,542.27 L1746.9,538.51 L1747.4,534.71 L1747.9,530.86 L1748.4,526.96 L1748.9,523.02 L1749.4,519.03 L1749.9,515.01 L1750.4,510.94 L1750.9,506.83 L1751.4,502.67 L1751.9,498.48 L1752.4,494.25 L1752.9,489.97 L1753.4,485.66 L1753.9,481.32 L1754.4,476.93 L1754.9,472.52 L1755.4,468.06 L1755.9,463.58 L1756.4,459.06 L1756.9,454.51 L1757.4,449.93 L1757.9,445.32 L1758.4,440.68 L1758.9,436.01 L1759.4,431.32 L1759.9,426.61 L1760.4,421.87 L1760.9,417.1 L1761.4,412.32 L1761.9,407.52 L1762.4,402.69 L1762.9,397.85 L1763.4,393 L1763.9,388.13 L1764.4,383.24 L1764.9,378.34 L1765.4,373.43 L1765.9,368.52 L1766.4,363.59 L1766.9,358.66 L1767.4,353.72 L1767.9,348.77 L1768.4,343.83 L1768.9,338.88 L1769.4,333.94 L1769.9,328.99 L1770.4,324.05 L1770.9,319.11 L1771.4,314.18 L1771.9,309.26 L1772.4,304.35 L1772.9,299.45 L1773.4,294.56 L1773.9,289.69 L1774.4,284.83 L1774.9,279.99 L1775.4,275.18 L1775.9,270.38 L1776.4,265.62 L1776.9,260.87 L1777.4,256.16 L1777.9,251.48 L1778.4,246.83 L1778.9,242.22 L1779.4,237.65 L1779.9,233.12 L1780.4,228.64 L1780.9,224.2 L1781.4,219.81 L1781.9,215.48 L1782.4,211.2 L1782.9,206.98 L1783.4,202.82 L1783.9,198.73 L1784.4,194.71 L1784.9,190.76 L1785.4,186.89 L1785.9,183.1 L1786.4,179.4 L1786.9,175.78 L1787.4,172.25 L1787.9,168.82 L1788.4,165.49 L1788.9,162.26 L1789.4,159.14 L1789.9,156.13 L1790.4,153.24 L1790.9,150.47 L1791.4,147.82 L1791.9,145.3 L1792.4,142.91 L1792.9,140.66 L1793.4,138.54 L1793.9,136.57 L1794.4,134.75 L1794.9,133.07 L1795.4,131.55 L1796.4,128.98 L1797.4,127.06 L1798.4,125.81 L1799.9,125.22 L1801.4,126.22 L1802.4,127.77 L1803.4,130.05 L1804.4,133.03 L1804.9,134.79 L1805.4,136.73 L1805.9,138.83 L1806.4,141.11 L1806.9,143.56 L1807.4,146.18 L1807.9,148.96 L1808.4,151.9 L1808.9,155 L1809.4,158.26 L1809.9,161.67 L1810.4,165.22 L1810.9,168.93 L1811.4,172.77 L1811.9,176.75 L1812.4,180.87 L1812.9,185.11 L1813.4,189.48 L1813.9,193.97 L1814.4,198.57 L1814.9,203.29 L1815.4,208.11 L1815.9,213.03 L1816.4,218.05 L1816.9,223.16 L1817.4,228.35 L1817.9,233.63 L1818.4,238.99 L1818.9,244.42 L1819.4,249.92 L1819.9,255.48 L1820.4,261.1 L1820.9,266.77 L1821.4,272.49 L1821.9,278.26 L1822.4,284.06 L1822.9,289.9 L1823.4,295.77 L1823.9,301.66 L1824.4,307.57 L1824.9,313.5 L1825.4,319.44 L1825.9,325.39 L1826.4,331.33 L1826.9,337.28 L1827.4,343.21 L1827.9,349.13 L1828.4,355.04 L1828.9,360.93 L1829.4,366.79 L1829.9,372.63 L1830.4,378.43 L1830.9,384.2 L1831.4,389.93 L1831.9,395.62 L1832.4,401.28 L1832.9,406.89 L1833.4,412.45 L1833.9,417.97 L1834.4,423.45 L1834.9,428.89 L1835.4,434.28 L1835.9,439.63 L1836.4,444.95 L1836.9,450.23 L1837.4,455.48 L1837.9,460.71 L1838.4,465.91 L1838.9,471.1 L1839.4,476.28 L1839.9,481.44 L1840.4,486.61 L1840.9,491.78 L1841.4,496.96 L1841.9,502.15 L1842.4,507.36 L1842.9,512.6 L1843.4,517.86 L1843.9,523.15 L1844.4,528.48 L1844.9,533.83 L1845.4,539.23 L1845.9,544.65 L1846.4,550.11 L1846.9,555.61 L1847.4,561.13 L1847.9,566.68 L1848.4,572.25 L1848.9,577.84 L1849.4,583.44 L1849.9,589.04 L1850.4,594.65 L1850.9,600.25 L1851.4,605.83 L1851.9,611.4 L1852.4,616.94 L1852.9,622.44 L1853.4,627.9 L1853.9,633.32 L1854.4,638.68 L1854.9,643.98 L1855.4,649.22 L1855.9,654.39 L1856.4,659.48 L1856.9,664.5 L1857.4,669.44 L1857.9,674.29 L1858.4,679.06 L1858.9,683.74 L1859.4,688.34 L1859.9,692.85 L1860.4,697.27 L1860.9,701.61 L1861.4,705.85 L1861.9,710.02 L1862.4,714.09 L1862.9,718.09 L1863.4,722 L1863.9,725.84 L1864.4,729.59 L1864.9,733.27 L1865.4,736.88 L1865.9,740.41 L1866.4,743.87 L1866.9,747.27 L1867.4,750.59 L1867.9,753.85 L1868.4,757.05 L1868.9,760.18 L1869.4,763.26 L1869.9,766.27 L1870.4,769.23 L1870.9,772.12 L1871.4,774.96 L1871.9,777.75 L1872.4,780.48 L1872.9,783.16 L1873.4,785.79 L1873.9,788.36 L1874.4,790.89 L1874.9,793.36 L1875.4,795.79 L1875.9,798.17 L1876.4,800.49 L1876.9,802.78 L1877.4,805.01 L1877.9,807.2 L1878.4,809.35 L1878.9,811.45 L1879.4,813.5 L1879.9,815.51 L1880.4,817.48 L1880.9,819.41 L1881.4,821.3 L1881.9,823.14 L1882.4,824.95 L1882.9,826.71 L1883.4,828.44 L1883.9,830.13 L1884.4,831.78 L1884.9,833.39 L1885.4,834.97 L1885.9,836.51 L1886.4,838.02 L1886.9,839.49 L1887.4,840.92 L1888.4,843.7 L1889.4,846.35 L1890.4,848.87 L1891.4,851.27 L1892.4,853.56 L1893.4,855.74 L1894.4,857.82 L1895.4,859.79 L1896.4,861.67 L1897.4,863.46 L1898.4,865.16 L1899.4,866.78 L1900.4,868.31 L1901.4,869.77 L1902.4,871.16 L1903.4,872.48 L1904.4,873.73 L1905.4,874.92 L1906.4,876.05 L1907.9,877.65 L1909.4,879.13 L1910.9,880.5 L1912.4,881.77 L1913.9,882.94 L1915.4,884.04 L1916.9,885.06 L1918.4,886 L1919.9,886.88 L1921.4,887.7 L1922.9,888.47 L1924.4,889.18 L1925.9,889.84 L1927.4,890.47 L1928.9,891.05 L1930.4,891.59 L1931.9,892.1 L1933.4,892.58 L1934.9,893.03 L1936.4,893.46 L1937.9,893.85 L1939.4,894.23 L1940.9,894.58 L1942.4,894.91 L1943.9,895.23 L1945.4,895.52 L1946.9,895.8 L1948.4,896.07 L1949.9,896.32 L1951.4,896.55 L1952.9,896.78 L1954.4,896.99 L1955.9,897.19 L1957.4,897.38 L1958.9,897.56 L1960.4,897.73 L1961.9,897.9 L1963.4,898.05 L1964.9,898.2 L1966.4,898.33 L1967.9,898.47 L1969.4,898.59 L1970.9,898.71 L1972.4,898.82 L1973.9,898.93 L1975.4,899.03 L1976.9,899.13 L1978.4,899.22 L1979.9,899.31 L1981.4,899.39 L1982.9,899.47 L1984.4,899.54 L1985.9,899.61 L1987.4,899.68 L1988.9,899.75 L1990.4,899.81 L1991.9,899.86 L1993.4,899.92 L1994.9,899.97 L1996.4,900.02 L1997.9,900.07 L1999.4,900.11 L2000.9,900.16 L2002.4,900.2 L2003.9,900.23 L2005.4,900.27 L2006.9,900.31 L2008.4,900.34 L2009.9,900.37 L2011.4,900.4 L2012.9,900.43 L2014.4,900.46 L2015.9,900.48 L2017.4,900.51 L2018.9,900.53 L2020.4,900.55 L2021.9,900.57 L2023.4,900.59 L2024.9,900.61 L2026.4,900.63 L2027.9,900.65 L2029.4,900.67 L2030.9,900.68 L2032.4,900.7 L2033.9,900.71 L2035.4,900.72 L2036.9,900.74 L2038.4,900.75 L2039.9,900.76 L2041.4,900.77 L2042.9,900.78 L2044.4,900.79 L2045.9,900.8 L2047.4,900.81 L2048.9,900.82 L2050.4,900.83 L2051.9,900.84 L2053.4,900.84 L2054.9,900.85 L2056.4,900.86 L2057.9,900.86 L2059.4,900.87 L2060.9,900.88 L2062.4,900.88 L2063.9,900.89 L2065.4,900.89 L2066.9,900.9 L2068.4,900.9 L2069.9,900.91" stroke="#0070ea" stroke-width="5.4" stroke-linejoin="round"/>
<path d="M1091.4,800.05 L1092.9,800.05 L1094.4,800.05 L1095.9,800.05 L1097.4,800.05 L1098.9,800.05 L1100.4,800.05 L1101.9,800.05 L1103.4,800.05 L1104.9,800.05 L1106.4,800.05 L1107.9,800.06 L1109.4,800.06 L1110.9,800.06 L1112.4,800.06 L1113.9,800.07 L1115.4,800.07 L1116.9,800.07 L1118.4,800.07 L1119.9,800.08 L1121.4,800.08 L1122.9,800.09 L1124.4,800.09 L1125.9,800.09 L1127.4,800.1 L1128.9,800.1 L1130.4,800.11 L1131.9,800.11 L1133.4,800.12 L1134.9,800.12 L1136.4,800.13 L1137.9,800.13 L1139.4,800.14 L1140.9,800.15 L1142.4,800.15 L1143.9,800.16 L1145.4,800.16 L1146.9,800.17 L1148.4,800.17 L1149.9,800.18 L1151.4,800.19 L1152.9,800.19 L1154.4,800.2 L1155.9,800.21 L1157.4,800.21 L1158.9,800.22 L1160.4,800.23 L1161.9,800.23 L1163.4,800.24 L1164.9,800.25 L1166.4,800.25 L1167.9,800.26 L1169.4,800.27 L1170.9,800.27 L1172.4,800.28 L1173.9,800.29 L1175.4,800.29 L1176.9,800.3 L1178.4,800.3 L1179.9,800.31 L1181.4,800.32 L1182.9,800.32 L1184.4,800.33 L1185.9,800.34 L1187.4,800.34 L1188.9,800.35 L1190.4,800.35 L1191.9,800.36 L1193.4,800.37 L1194.9,800.37 L1196.4,800.38 L1197.9,800.38 L1199.4,800.39 L1200.9,800.39 L1202.4,800.4 L1203.9,800.4 L1205.4,800.41 L1206.9,800.41 L1208.4,800.41 L1209.9,800.42 L1211.4,800.42 L1212.9,800.43 L1214.4,800.43 L1215.9,800.43 L1217.4,800.44 L1218.9,800.44 L1220.4,800.44 L1221.9,800.45 L1223.4,800.45 L1224.9,800.45 L1226.4,800.45 L1227.9,800.45 L1229.4,800.46 L1230.9,800.46 L1232.4,800.46 L1233.9,800.46 L1235.4,800.46 L1236.9,800.46 L1238.4,800.46 L1239.9,800.46 L1241.4,800.47 L1242.9,800.47 L1244.4,800.47 L1245.9,800.47 L1247.4,800.47 L1248.9,800.47 L1250.4,800.47 L1251.9,800.47 L1253.4,800.46 L1254.9,800.46 L1256.4,800.46 L1257.9,800.46 L1259.4,800.46 L1260.9,800.46 L1262.4,800.46 L1263.9,800.46 L1265.4,800.45 L1266.9,800.45 L1268.4,800.45 L1269.9,800.45 L1271.4,800.45 L1272.9,800.44 L1274.4,800.44 L1275.9,800.44 L1277.4,800.43 L1278.9,800.43 L1280.4,800.43 L1281.9,800.42 L1283.4,800.42 L1284.9,800.42 L1286.4,800.41 L1287.9,800.41 L1289.4,800.41 L1290.9,800.4 L1292.4,800.4 L1293.9,800.39 L1295.4,800.39 L1296.9,800.38 L1298.4,800.38 L1299.9,800.37 L1301.4,800.37 L1302.9,800.36 L1304.4,800.35 L1305.9,800.35 L1307.4,800.34 L1308.9,800.33 L1310.4,800.33 L1311.9,800.32 L1313.4,800.31 L1314.9,800.3 L1316.4,800.3 L1317.9,800.29 L1319.4,800.28 L1320.9,800.27 L1322.4,800.26 L1323.9,800.25 L1325.4,800.24 L1326.9,800.23 L1328.4,800.22 L1329.9,800.21 L1331.4,800.2 L1332.9,800.19 L1334.4,800.18 L1335.9,800.17 L1337.4,800.16 L1338.9,800.14 L1340.4,800.13 L1341.9,800.12 L1343.4,800.1 L1344.9,800.09 L1346.4,800.08 L1347.9,800.06 L1349.4,800.05 L1350.9,800.03 L1352.4,800.01 L1353.9,800 L1355.4,799.98 L1356.9,799.96 L1358.4,799.94 L1359.9,799.92 L1361.4,799.9 L1362.9,799.88 L1364.4,799.86 L1365.9,799.84 L1367.4,799.81 L1368.9,799.79 L1370.4,799.77 L1371.9,799.74 L1373.4,799.72 L1374.9,799.69 L1376.4,799.66 L1377.9,799.63 L1379.4,799.6 L1380.9,799.57 L1382.4,799.54 L1383.9,799.51 L1385.4,799.48 L1386.9,799.44 L1388.4,799.41 L1389.9,799.37 L1391.4,799.34 L1392.9,799.3 L1394.4,799.26 L1395.9,799.22 L1397.4,799.17 L1398.9,799.13 L1400.4,799.09 L1401.9,799.04 L1403.4,798.99 L1404.9,798.94 L1406.4,798.89 L1407.9,798.84 L1409.4,798.79 L1410.9,798.73 L1412.4,798.67 L1413.9,798.62 L1415.4,798.55 L1416.9,798.49 L1418.4,798.43 L1419.9,798.36 L1421.4,798.29 L1422.9,798.22 L1424.4,798.15 L1425.9,798.08 L1427.4,798 L1428.9,797.93 L1430.4,797.85 L1431.9,797.76 L1433.4,797.68 L1434.9,797.59 L1436.4,797.5 L1437.9,797.41 L1439.4,797.32 L1440.9,797.22 L1442.4,797.12 L1443.9,797.02 L1445.4,796.91 L1446.9,796.81 L1448.4,796.7 L1449.9,796.58 L1451.4,796.47 L1452.9,796.35 L1454.4,796.23 L1455.9,796.1 L1457.4,795.98 L1458.9,795.85 L1460.4,795.71 L1461.9,795.58 L1463.4,795.44 L1464.9,795.29 L1466.4,795.15 L1467.9,795 L1469.4,794.84 L1470.9,794.69 L1472.4,794.53 L1473.9,794.36 L1475.4,794.2 L1476.9,794.02 L1478.4,793.85 L1479.9,793.67 L1481.4,793.49 L1482.9,793.3 L1484.4,793.11 L1485.9,792.92 L1487.4,792.72 L1488.9,792.52 L1490.4,792.31 L1491.9,792.1 L1493.4,791.88 L1494.9,791.66 L1496.4,791.44 L1497.9,791.21 L1499.4,790.97 L1500.9,790.73 L1502.4,790.49 L1503.9,790.24 L1505.4,789.99 L1506.9,789.73 L1508.4,789.46 L1509.9,789.19 L1511.4,788.92 L1512.9,788.64 L1514.4,788.35 L1515.9,788.06 L1517.4,787.76 L1518.9,787.45 L1520.4,787.14 L1521.9,786.82 L1523.4,786.49 L1524.9,786.15 L1526.4,785.81 L1527.9,785.46 L1529.4,785.1 L1530.9,784.74 L1532.4,784.36 L1533.9,783.98 L1535.4,783.59 L1536.9,783.19 L1538.4,782.79 L1539.9,782.37 L1541.4,781.95 L1542.9,781.51 L1544.4,781.07 L1545.9,780.61 L1547.4,780.15 L1548.9,779.68 L1550.4,779.19 L1551.9,778.69 L1553.4,778.19 L1554.9,777.67 L1556.4,777.14 L1557.9,776.59 L1559.4,776.04 L1560.9,775.47 L1562.4,774.9 L1563.9,774.31 L1565.4,773.71 L1566.9,773.09 L1568.4,772.46 L1569.9,771.82 L1571.4,771.16 L1572.9,770.49 L1574.4,769.8 L1575.9,769.1 L1577.4,768.38 L1578.9,767.65 L1580.4,766.9 L1581.9,766.13 L1583.4,765.35 L1584.9,764.56 L1586.4,763.74 L1587.9,762.92 L1589.4,762.07 L1590.9,761.21 L1592.4,760.33 L1593.9,759.44 L1595.4,758.53 L1596.9,757.6 L1598.4,756.66 L1599.9,755.7 L1601.4,754.73 L1602.9,753.74 L1604.4,752.74 L1605.9,751.72 L1607.4,750.69 L1608.9,749.64 L1610.4,748.58 L1611.9,747.51 L1613.4,746.42 L1614.9,745.32 L1616.4,744.21 L1617.9,743.09 L1619.4,741.95 L1620.9,740.81 L1622.4,739.65 L1623.9,738.48 L1625.4,737.3 L1626.9,736.11 L1628.4,734.92 L1629.9,733.71 L1631.4,732.48 L1632.9,731.25 L1634.4,730.01 L1635.9,728.75 L1637.4,727.48 L1638.9,726.19 L1640.4,724.88 L1641.9,723.55 L1643.4,722.2 L1644.9,720.82 L1646.4,719.41 L1647.9,717.97 L1649.4,716.49 L1650.9,714.96 L1652.4,713.37 L1653.9,711.73 L1654.9,710.6 L1655.9,709.43 L1656.9,708.23 L1657.9,706.98 L1658.9,705.7 L1659.9,704.37 L1660.9,702.99 L1661.9,701.55 L1662.9,700.06 L1663.9,698.5 L1664.9,696.88 L1665.9,695.18 L1666.9,693.41 L1667.9,691.56 L1668.9,689.62 L1669.9,687.58 L1670.9,685.44 L1671.9,683.2 L1672.9,680.85 L1673.9,678.37 L1674.9,675.78 L1675.9,673.04 L1676.4,671.63 L1676.9,670.17 L1677.4,668.68 L1677.9,667.16 L1678.4,665.59 L1678.9,663.98 L1679.4,662.34 L1679.9,660.65 L1680.4,658.92 L1680.9,657.15 L1681.4,655.33 L1681.9,653.47 L1682.4,651.56 L1682.9,649.61 L1683.4,647.6 L1683.9,645.55 L1684.4,643.45 L1684.9,641.3 L1685.4,639.09 L1685.9,636.84 L1686.4,634.53 L1686.9,632.16 L1687.4,629.75 L1687.9,627.27 L1688.4,624.74 L1688.9,622.15 L1689.4,619.5 L1689.9,616.8 L1690.4,614.03 L1690.9,611.2 L1691.4,608.31 L1691.9,605.36 L1692.4,602.34 L1692.9,599.27 L1693.4,596.12 L1693.9,592.92 L1694.4,589.64 L1694.9,586.31 L1695.4,582.9 L1695.9,579.43 L1696.4,575.89 L1696.9,572.28 L1697.4,568.61 L1697.9,564.87 L1698.4,561.05 L1698.9,557.17 L1699.4,553.22 L1699.9,549.21 L1700.4,545.12 L1700.9,540.96 L1701.4,536.73 L1701.9,532.44 L1702.4,528.07 L1702.9,523.64 L1703.4,519.14 L1703.9,514.57 L1704.4,509.93 L1704.9,505.23 L1705.4,500.46 L1705.9,495.62 L1706.4,490.72 L1706.9,485.75 L1707.4,480.71 L1707.9,475.62 L1708.4,470.46 L1708.9,465.24 L1709.4,459.96 L1709.9,454.62 L1710.4,449.22 L1710.9,443.76 L1711.4,438.25 L1711.9,432.69 L1712.4,427.07 L1712.9,421.4 L1713.4,415.68 L1713.9,409.91 L1714.4,404.1 L1714.9,398.24 L1715.4,392.34 L1715.9,386.4 L1716.4,380.42 L1716.9,374.41 L1717.4,368.36 L1717.9,362.28 L1718.4,356.17 L1718.9,350.03 L1719.4,343.87 L1719.9,337.68 L1720.4,331.48 L1720.9,325.25 L1721.4,319.02 L1721.9,312.77 L1722.4,306.52 L1722.9,300.25 L1723.4,293.99 L1723.9,287.73 L1724.4,281.46 L1724.9,275.21 L1725.4,268.97 L1725.9,262.73 L1726.4,256.52 L1726.9,250.32 L1727.4,244.15 L1727.9,238 L1728.4,231.89 L1728.9,225.8 L1729.4,219.75 L1729.9,213.75 L1730.4,207.78 L1730.9,201.87 L1731.4,196 L1731.9,190.19 L1732.4,184.44 L1732.9,178.75 L1733.4,173.13 L1733.9,167.58 L1734.4,162.1 L1734.9,156.69 L1735.4,151.37 L1735.9,146.14 L1736.4,140.99 L1736.9,135.93 L1737.4,130.97 L1737.9,126.11 L1738.4,121.36 L1738.9,116.71 L1739.4,112.17 L1739.9,107.75 L1740.4,103.45 L1740.9,99.27 L1741.4,95.22 L1741.9,91.29 L1742.4,87.51 L1742.9,83.86 L1743.4,80.35 L1743.9,76.99 L1744.4,73.77 L1744.9,70.71 L1745.4,67.81 L1745.9,65.06 L1746.4,62.48 L1746.9,60.07 L1747.4,57.83 L1747.9,55.76 L1748.4,53.87 L1748.9,52.16 L1749.4,50.63 L1750.4,48.15 L1751.4,46.43 L1752.9,45.35 L1754.4,46.11 L1755.4,47.67 L1756.4,50.07 L1756.9,51.59 L1757.4,53.32 L1757.9,55.25 L1758.4,57.4 L1758.9,59.76 L1759.4,62.32 L1759.9,65.09 L1760.4,68.05 L1760.9,71.21 L1761.4,74.56 L1761.9,78.11 L1762.4,81.83 L1762.9,85.73 L1763.4,89.81 L1763.9,94.05 L1764.4,98.45 L1764.9,103.01 L1765.4,107.72 L1765.9,112.57 L1766.4,117.55 L1766.9,122.67 L1767.4,127.9 L1767.9,133.25 L1768.4,138.71 L1768.9,144.28 L1769.4,149.94 L1769.9,155.69 L1770.4,161.53 L1770.9,167.45 L1771.4,173.44 L1771.9,179.51 L1772.4,185.64 L1772.9,191.83 L1773.4,198.08 L1773.9,204.39 L1774.4,210.75 L1774.9,217.15 L1775.4,223.6 L1775.9,230.1 L1776.4,236.63 L1776.9,243.2 L1777.4,249.81 L1777.9,256.44 L1778.4,263.11 L1778.9,269.81 L1779.4,276.54 L1779.9,283.29 L1780.4,290.06 L1780.9,296.86 L1781.4,303.68 L1781.9,310.51 L1782.4,317.36 L1782.9,324.23 L1783.4,331.11 L1783.9,337.99 L1784.4,344.89 L1784.9,351.8 L1785.4,358.71 L1785.9,365.63 L1786.4,372.54 L1786.9,379.46 L1787.4,386.38 L1787.9,393.29 L1788.4,400.19 L1788.9,407.09 L1789.4,413.98 L1789.9,420.85 L1790.4,427.71 L1790.9,434.56 L1791.4,441.39 L1791.9,448.2 L1792.4,454.98 L1792.9,461.74 L1793.4,468.48 L1793.9,475.19 L1794.4,481.87 L1794.9,488.52 L1795.4,495.13 L1795.9,501.71 L1796.4,508.26 L1796.9,514.76 L1797.4,521.23 L1797.9,527.65 L1798.4,534.03 L1798.9,540.36 L1799.4,546.65 L1799.9,552.88 L1800.4,559.07 L1800.9,565.21 L1801.4,571.29 L1801.9,577.33 L1802.4,583.3 L1802.9,589.22 L1803.4,595.08 L1803.9,600.89 L1804.4,606.63 L1804.9,612.31 L1805.4,617.93 L1805.9,623.49 L1806.4,628.99 L1806.9,634.42 L1807.4,639.79 L1807.9,645.09 L1808.4,650.33 L1808.9,655.49 L1809.4,660.6 L1809.9,665.63 L1810.4,670.6 L1810.9,675.49 L1811.4,680.32 L1811.9,685.08 L1812.4,689.77 L1812.9,694.39 L1813.4,698.94 L1813.9,703.43 L1814.4,707.84 L1814.9,712.18 L1815.4,716.45 L1815.9,720.66 L1816.4,724.79 L1816.9,728.85 L1817.4,732.85 L1817.9,736.78 L1818.4,740.63 L1818.9,744.42 L1819.4,748.14 L1819.9,751.8 L1820.4,755.38 L1820.9,758.9 L1821.4,762.36 L1821.9,765.74 L1822.4,769.07 L1822.9,772.32 L1823.4,775.52 L1823.9,778.64 L1824.4,781.71 L1824.9,784.71 L1825.4,787.66 L1825.9,790.54 L1826.4,793.36 L1826.9,796.12 L1827.4,798.82 L1827.9,801.46 L1828.4,804.04 L1828.9,806.57 L1829.4,809.04 L1829.9,811.46 L1830.4,813.82 L1830.9,816.12 L1831.4,818.38 L1831.9,820.58 L1832.4,822.73 L1832.9,824.83 L1833.4,826.88 L1833.9,828.88 L1834.4,830.83 L1834.9,832.73 L1835.4,834.59 L1835.9,836.4 L1836.4,838.16 L1836.9,839.89 L1837.4,841.56 L1837.9,843.2 L1838.4,844.79 L1838.9,846.34 L1839.4,847.85 L1839.9,849.33 L1840.4,850.76 L1841.4,853.51 L1842.4,856.12 L1843.4,858.59 L1844.4,860.92 L1845.4,863.13 L1846.4,865.21 L1847.4,867.18 L1848.4,869.04 L1849.4,870.79 L1850.4,872.44 L1851.4,874 L1852.4,875.46 L1853.4,876.84 L1854.4,878.13 L1855.4,879.35 L1856.4,880.5 L1857.9,882.09 L1859.4,883.53 L1860.9,884.85 L1862.4,886.05 L1863.9,887.13 L1865.4,888.12 L1866.9,889.02 L1868.4,889.83 L1869.9,890.57 L1871.4,891.25 L1872.9,891.86 L1874.4,892.42 L1875.9,892.93 L1877.4,893.39 L1878.9,893.81 L1880.4,894.2 L1881.9,894.56 L1883.4,894.88 L1884.9,895.18 L1886.4,895.46 L1887.9,895.72 L1889.4,895.96 L1890.9,896.18 L1892.4,896.38 L1893.9,896.58 L1895.4,896.76 L1896.9,896.93 L1898.4,897.09 L1899.9,897.24 L1901.4,897.38 L1902.9,897.52 L1904.4,897.65 L1905.9,897.77 L1907.4,897.89 L1908.9,898 L1910.4,898.11 L1911.9,898.21 L1913.4,898.31 L1914.9,898.4 L1916.4,898.5 L1917.9,898.58 L1919.4,898.67 L1920.9,898.75 L1922.4,898.83 L1923.9,898.91 L1925.4,898.98 L1926.9,899.05 L1928.4,899.12 L1929.9,899.19 L1931.4,899.26 L1932.9,899.32 L1934.4,899.38 L1935.9,899.44 L1937.4,899.5 L1938.9,899.55 L1940.4,899.6 L1941.9,899.66 L1943.4,899.71 L1944.9,899.75 L1946.4,899.8 L1947.9,899.85 L1949.4,899.89 L1950.9,899.93 L1952.4,899.97 L1953.9,900.01 L1955.4,900.05 L1956.9,900.09 L1958.4,900.12 L1959.9,900.16 L1961.4,900.19 L1962.9,900.22 L1964.4,900.25 L1965.9,900.28 L1967.4,900.31 L1968.9,900.34 L1970.4,900.36 L1971.9,900.39 L1973.4,900.42 L1974.9,900.44 L1976.4,900.46 L1977.9,900.48 L1979.4,900.51 L1980.9,900.53 L1982.4,900.55 L1983.9,900.57 L1985.4,900.58 L1986.9,900.6 L1988.4,900.62 L1989.9,900.63 L1991.4,900.65 L1992.9,900.67 L1994.4,900.68 L1995.9,900.69 L1997.4,900.71 L1998.9,900.72 L2000.4,900.73 L2001.9,900.74 L2003.4,900.76 L2004.9,900.77 L2006.4,900.78 L2007.9,900.79 L2009.4,900.8 L2010.9,900.81 L2012.4,900.82 L2013.9,900.82 L2015.4,900.83 L2016.9,900.84 L2018.4,900.85 L2019.9,900.85 L2021.4,900.86 L2022.9,900.87 L2024.4,900.87 L2025.9,900.88 L2027.4,900.89 L2028.9,900.89 L2030.4,900.9 L2031.9,900.9 L2033.4,900.91 L2034.9,900.91 L2036.4,900.92 L2037.9,900.92 L2039.4,900.92 L2040.9,900.93 L2042.4,900.93 L2043.9,900.93 L2045.4,900.94 L2046.9,900.94 L2048.4,900.94 L2049.9,900.95 L2051.4,900.95 L2052.9,900.95 L2054.4,900.95 L2055.9,900.96 L2057.4,900.96 L2058.9,900.96 L2060.4,900.96 L2061.9,900.97 L2063.4,900.97 L2064.9,900.97 L2066.4,900.97 L2067.9,900.97 L2069.4,900.97 L2069.9,900.97" stroke="#808080" stroke-width="5.4" stroke-linejoin="round"/>
<path d="M1091.4,795.67 L1092.9,795.65 L1094.4,795.64 L1095.9,795.62 L1097.4,795.61 L1098.9,795.6 L1100.4,795.58 L1101.9,795.57 L1103.4,795.56 L1104.9,795.55 L1106.4,795.53 L1107.9,795.52 L1109.4,795.51 L1110.9,795.5 L1112.4,795.49 L1113.9,795.48 L1115.4,795.47 L1116.9,795.46 L1118.4,795.45 L1119.9,795.44 L1121.4,795.44 L1122.9,795.43 L1124.4,795.42 L1125.9,795.41 L1127.4,795.4 L1128.9,795.4 L1130.4,795.39 L1131.9,795.39 L1133.4,795.38 L1134.9,795.37 L1136.4,795.37 L1137.9,795.36 L1139.4,795.36 L1140.9,795.35 L1142.4,795.35 L1143.9,795.35 L1145.4,795.34 L1146.9,795.34 L1148.4,795.34 L1149.9,795.33 L1151.4,795.33 L1152.9,795.33 L1154.4,795.32 L1155.9,795.32 L1157.4,795.32 L1158.9,795.32 L1160.4,795.32 L1161.9,795.32 L1163.4,795.32 L1164.9,795.31 L1166.4,795.31 L1167.9,795.31 L1169.4,795.31 L1170.9,795.31 L1172.4,795.31 L1173.9,795.31 L1175.4,795.31 L1176.9,795.31 L1178.4,795.31 L1179.9,795.31 L1181.4,795.32 L1182.9,795.32 L1184.4,795.32 L1185.9,795.32 L1187.4,795.32 L1188.9,795.32 L1190.4,795.32 L1191.9,795.32 L1193.4,795.33 L1194.9,795.33 L1196.4,795.33 L1197.9,795.33 L1199.4,795.33 L1200.9,795.34 L1202.4,795.34 L1203.9,795.34 L1205.4,795.34 L1206.9,795.35 L1208.4,795.35 L1209.9,795.35 L1211.4,795.35 L1212.9,795.36 L1214.4,795.36 L1215.9,795.36 L1217.4,795.36 L1218.9,795.37 L1220.4,795.37 L1221.9,795.37 L1223.4,795.38 L1224.9,795.38 L1226.4,795.38 L1227.9,795.38 L1229.4,795.39 L1230.9,795.39 L1232.4,795.39 L1233.9,795.39 L1235.4,795.4 L1236.9,795.4 L1238.4,795.4 L1239.9,795.4 L1241.4,795.41 L1242.9,795.41 L1244.4,795.41 L1245.9,795.41 L1247.4,795.42 L1248.9,795.42 L1250.4,795.42 L1251.9,795.42 L1253.4,795.42 L1254.9,795.43 L1256.4,795.43 L1257.9,795.43 L1259.4,795.43 L1260.9,795.43 L1262.4,795.43 L1263.9,795.43 L1265.4,795.43 L1266.9,795.44 L1268.4,795.44 L1269.9,795.44 L1271.4,795.44 L1272.9,795.44 L1274.4,795.44 L1275.9,795.44 L1277.4,795.44 L1278.9,795.44 L1280.4,795.44 L1281.9,795.43 L1283.4,795.43 L1284.9,795.43 L1286.4,795.43 L1287.9,795.43 L1289.4,795.43 L1290.9,795.43 L1292.4,795.42 L1293.9,795.42 L1295.4,795.42 L1296.9,795.41 L1298.4,795.41 L1299.9,795.41 L1301.4,795.4 L1302.9,795.4 L1304.4,795.4 L1305.9,795.39 L1307.4,795.39 L1308.9,795.38 L1310.4,795.38 L1311.9,795.37 L1313.4,795.36 L1314.9,795.36 L1316.4,795.35 L1317.9,795.35 L1319.4,795.34 L1320.9,795.33 L1322.4,795.32 L1323.9,795.31 L1325.4,795.31 L1326.9,795.3 L1328.4,795.29 L1329.9,795.28 L1331.4,795.27 L1332.9,795.26 L1334.4,795.25 L1335.9,795.24 L1337.4,795.23 L1338.9,795.21 L1340.4,795.2 L1341.9,795.19 L1343.4,795.18 L1344.9,795.16 L1346.4,795.15 L1347.9,795.13 L1349.4,795.12 L1350.9,795.1 L1352.4,795.09 L1353.9,795.07 L1355.4,795.05 L1356.9,795.04 L1358.4,795.02 L1359.9,795 L1361.4,794.98 L1362.9,794.96 L1364.4,794.94 L1365.9,794.92 L1367.4,794.9 L1368.9,794.88 L1370.4,794.86 L1371.9,794.84 L1373.4,794.81 L1374.9,794.79 L1376.4,794.76 L1377.9,794.74 L1379.4,794.71 L1380.9,794.69 L1382.4,794.66 L1383.9,794.64 L1385.4,794.61 L1386.9,794.58 L1388.4,794.56 L1389.9,794.53 L1391.4,794.5 L1392.9,794.48 L1394.4,794.45 L1395.9,794.43 L1397.4,794.4 L1398.9,794.38 L1400.4,794.36 L1401.9,794.33 L1403.4,794.31 L1404.9,794.29 L1406.4,794.27 L1407.9,794.26 L1409.4,794.24 L1410.9,794.22 L1412.4,794.21 L1413.9,794.2 L1415.4,794.19 L1416.9,794.18 L1418.4,794.17 L1419.9,794.17 L1421.4,794.16 L1422.9,794.15 L1424.4,794.15 L1425.9,794.15 L1427.4,794.14 L1428.9,794.14 L1430.4,794.13 L1431.9,794.13 L1433.4,794.12 L1434.9,794.12 L1436.4,794.11 L1437.9,794.1 L1439.4,794.09 L1440.9,794.08 L1442.4,794.07 L1443.9,794.06 L1445.4,794.04 L1446.9,794.03 L1448.4,794.01 L1449.9,793.98 L1451.4,793.96 L1452.9,793.93 L1454.4,793.91 L1455.9,793.87 L1457.4,793.84 L1458.9,793.81 L1460.4,793.77 L1461.9,793.73 L1463.4,793.68 L1464.9,793.64 L1466.4,793.59 L1467.9,793.54 L1469.4,793.49 L1470.9,793.43 L1472.4,793.38 L1473.9,793.32 L1475.4,793.26 L1476.9,793.19 L1478.4,793.13 L1479.9,793.06 L1481.4,792.99 L1482.9,792.91 L1484.4,792.84 L1485.9,792.76 L1487.4,792.68 L1488.9,792.6 L1490.4,792.51 L1491.9,792.42 L1493.4,792.34 L1494.9,792.25 L1496.4,792.15 L1497.9,792.06 L1499.4,791.97 L1500.9,791.87 L1502.4,791.78 L1503.9,791.68 L1505.4,791.59 L1506.9,791.49 L1508.4,791.39 L1509.9,791.29 L1511.4,791.2 L1512.9,791.1 L1514.4,791 L1515.9,790.91 L1517.4,790.81 L1518.9,790.72 L1520.4,790.63 L1521.9,790.56 L1523.4,790.48 L1524.9,790.4 L1526.4,790.32 L1527.9,790.24 L1529.4,790.15 L1530.9,790.05 L1532.4,789.95 L1533.9,789.85 L1535.4,789.73 L1536.9,789.61 L1538.4,789.49 L1539.9,789.35 L1541.4,789.2 L1542.9,789.04 L1544.4,788.88 L1545.9,788.69 L1547.4,788.5 L1548.9,788.29 L1550.4,788.07 L1551.9,787.83 L1553.4,787.57 L1554.9,787.3 L1556.4,787 L1557.9,786.69 L1559.4,786.35 L1560.9,786.06 L1562.4,785.8 L1563.9,785.54 L1565.4,785.28 L1566.9,785.01 L1568.4,784.73 L1569.9,784.45 L1571.4,784.17 L1572.9,783.87 L1574.4,783.58 L1575.9,783.28 L1577.4,782.97 L1578.9,782.66 L1580.4,782.35 L1581.9,782.03 L1583.4,781.7 L1584.9,781.37 L1586.4,781.04 L1587.9,780.7 L1589.4,780.35 L1590.9,780.01 L1592.4,779.65 L1593.9,779.29 L1595.4,778.93 L1596.9,778.57 L1598.4,778.19 L1599.9,777.82 L1601.4,777.44 L1602.9,777.06 L1604.4,776.67 L1605.9,776.28 L1607.4,775.88 L1608.9,775.48 L1610.4,775.08 L1611.9,774.68 L1613.4,774.27 L1614.9,773.86 L1616.4,773.44 L1617.9,773.02 L1619.4,772.6 L1620.9,772.18 L1622.4,771.76 L1623.9,771.33 L1625.4,770.9 L1626.9,770.47 L1628.4,770.04 L1629.9,769.6 L1631.4,769.16 L1632.9,768.73 L1634.4,768.29 L1635.9,767.85 L1637.4,767.41 L1638.9,766.97 L1640.4,766.53 L1641.9,766.09 L1643.4,765.64 L1644.9,765.2 L1646.4,764.76 L1647.9,764.32 L1649.4,763.88 L1650.9,763.44 L1652.4,763 L1653.9,762.56 L1655.4,762.12 L1656.9,761.68 L1658.4,761.24 L1659.9,760.79 L1661.4,760.35 L1662.9,759.91 L1664.4,759.46 L1665.9,759.01 L1667.4,758.55 L1668.9,758.09 L1670.4,757.62 L1671.9,757.14 L1673.4,756.65 L1674.9,756.15 L1676.4,755.63 L1677.9,755.09 L1679.4,754.52 L1680.9,753.94 L1682.4,753.32 L1683.9,752.67 L1685.4,751.99 L1686.9,751.27 L1688.4,750.51 L1689.9,749.7 L1691.4,748.85 L1692.9,747.95 L1694.4,747 L1695.9,746 L1697.4,744.96 L1698.9,743.86 L1700.4,742.72 L1701.9,741.54 L1703.4,740.31 L1704.9,739.06 L1706.4,737.77 L1707.9,736.46 L1709.4,735.12 L1710.9,733.78 L1712.4,732.43 L1713.9,731.07 L1715.4,729.72 L1716.9,728.37 L1718.4,727.03 L1719.9,725.7 L1721.4,724.38 L1722.9,723.06 L1724.4,721.75 L1725.9,720.44 L1727.4,719.11 L1728.9,717.76 L1730.4,716.38 L1731.9,714.95 L1733.4,713.47 L1734.9,711.91 L1736.4,710.25 L1737.4,709.1 L1738.4,707.88 L1739.4,706.62 L1740.4,705.28 L1741.4,703.89 L1742.4,702.42 L1743.4,700.87 L1744.4,699.24 L1745.4,697.52 L1746.4,695.72 L1747.4,693.82 L1748.4,691.82 L1749.4,689.72 L1750.4,687.51 L1751.4,685.2 L1752.4,682.77 L1753.4,680.23 L1754.4,677.57 L1755.4,674.79 L1755.9,673.35 L1756.4,671.88 L1756.9,670.38 L1757.4,668.85 L1757.9,667.29 L1758.4,665.7 L1758.9,664.07 L1759.4,662.41 L1759.9,660.72 L1760.4,658.99 L1760.9,657.23 L1761.4,655.44 L1761.9,653.61 L1762.4,651.75 L1762.9,649.86 L1763.4,647.93 L1763.9,645.96 L1764.4,643.96 L1764.9,641.93 L1765.4,639.86 L1765.9,637.76 L1766.4,635.61 L1766.9,633.44 L1767.4,631.23 L1767.9,628.98 L1768.4,626.69 L1768.9,624.37 L1769.4,622.01 L1769.9,619.61 L1770.4,617.18 L1770.9,614.71 L1771.4,612.2 L1771.9,609.65 L1772.4,607.07 L1772.9,604.45 L1773.4,601.79 L1773.9,599.09 L1774.4,596.35 L1774.9,593.57 L1775.4,590.76 L1775.9,587.9 L1776.4,585.01 L1776.9,582.08 L1777.4,579.11 L1777.9,576.1 L1778.4,573.05 L1778.9,569.96 L1779.4,566.83 L1779.9,563.66 L1780.4,560.46 L1780.9,557.21 L1781.4,553.93 L1781.9,550.61 L1782.4,547.24 L1782.9,543.85 L1783.4,540.41 L1783.9,536.93 L1784.4,533.42 L1784.9,529.87 L1785.4,526.28 L1785.9,522.66 L1786.4,519 L1786.9,515.3 L1787.4,511.57 L1787.9,507.8 L1788.4,504.01 L1788.9,500.18 L1789.4,496.31 L1789.9,492.42 L1790.4,488.49 L1790.9,484.54 L1791.4,480.56 L1791.9,476.55 L1792.4,472.51 L1792.9,468.45 L1793.4,464.37 L1793.9,460.26 L1794.4,456.13 L1794.9,451.98 L1795.4,447.82 L1795.9,443.63 L1796.4,439.44 L1796.9,435.23 L1797.4,431.01 L1797.9,426.78 L1798.4,422.54 L1798.9,418.3 L1799.4,414.05 L1799.9,409.8 L1800.4,405.55 L1800.9,401.31 L1801.4,397.07 L1801.9,392.84 L1802.4,388.62 L1802.9,384.41 L1803.4,380.22 L1803.9,376.04 L1804.4,371.89 L1804.9,367.76 L1805.4,363.65 L1805.9,359.57 L1806.4,355.53 L1806.9,351.51 L1807.4,347.54 L1807.9,343.6 L1808.4,339.71 L1808.9,335.86 L1809.4,332.06 L1809.9,328.3 L1810.4,324.61 L1810.9,320.97 L1811.4,317.38 L1811.9,313.86 L1812.4,310.41 L1812.9,307.02 L1813.4,303.7 L1813.9,300.46 L1814.4,297.29 L1814.9,294.2 L1815.4,291.19 L1815.9,288.26 L1816.4,285.42 L1816.9,282.67 L1817.4,280 L1817.9,277.43 L1818.4,274.96 L1818.9,272.58 L1819.4,270.29 L1819.9,268.11 L1820.4,266.03 L1820.9,264.06 L1821.4,262.19 L1821.9,260.43 L1822.4,258.77 L1822.9,257.23 L1823.4,255.79 L1824.4,253.26 L1825.4,251.18 L1826.4,249.56 L1827.4,248.41 L1828.9,247.54 L1830.4,247.72 L1831.9,248.93 L1832.9,250.29 L1833.9,252.1 L1834.9,254.34 L1835.9,257 L1836.4,258.48 L1836.9,260.07 L1837.4,261.75 L1837.9,263.53 L1838.4,265.41 L1838.9,267.38 L1839.4,269.44 L1839.9,271.59 L1840.4,273.83 L1840.9,276.15 L1841.4,278.56 L1841.9,281.05 L1842.4,283.62 L1842.9,286.27 L1843.4,288.99 L1843.9,291.79 L1844.4,294.66 L1844.9,297.6 L1845.4,300.6 L1845.9,303.67 L1846.4,306.8 L1846.9,310 L1847.4,313.25 L1847.9,316.56 L1848.4,319.93 L1848.9,323.35 L1849.4,326.82 L1849.9,330.34 L1850.4,333.91 L1850.9,337.53 L1851.4,341.19 L1851.9,344.89 L1852.4,348.64 L1852.9,352.42 L1853.4,356.25 L1853.9,360.11 L1854.4,364.01 L1854.9,367.94 L1855.4,371.9 L1855.9,375.9 L1856.4,379.92 L1856.9,383.98 L1857.4,388.06 L1857.9,392.18 L1858.4,396.32 L1858.9,400.48 L1859.4,404.67 L1859.9,408.89 L1860.4,413.12 L1860.9,417.38 L1861.4,421.67 L1861.9,425.97 L1862.4,430.3 L1862.9,434.64 L1863.4,439.01 L1863.9,443.39 L1864.4,447.79 L1864.9,452.21 L1865.4,456.65 L1865.9,461.11 L1866.4,465.58 L1866.9,470.06 L1867.4,474.57 L1867.9,479.08 L1868.4,483.62 L1868.9,488.16 L1869.4,492.72 L1869.9,497.29 L1870.4,501.87 L1870.9,506.46 L1871.4,511.07 L1871.9,515.68 L1872.4,520.3 L1872.9,524.93 L1873.4,529.56 L1873.9,534.2 L1874.4,538.84 L1874.9,543.49 L1875.4,548.13 L1875.9,552.78 L1876.4,557.43 L1876.9,562.07 L1877.4,566.71 L1877.9,571.34 L1878.4,575.97 L1878.9,580.59 L1879.4,585.2 L1879.9,589.79 L1880.4,594.38 L1880.9,598.94 L1881.4,603.49 L1881.9,608.03 L1882.4,612.54 L1882.9,617.03 L1883.4,621.49 L1883.9,625.93 L1884.4,630.34 L1884.9,634.73 L1885.4,639.08 L1885.9,643.4 L1886.4,647.69 L1886.9,651.94 L1887.4,656.15 L1887.9,660.33 L1888.4,664.47 L1888.9,668.57 L1889.4,672.63 L1889.9,676.65 L1890.4,680.62 L1890.9,684.55 L1891.4,688.43 L1891.9,692.27 L1892.4,696.07 L1892.9,699.81 L1893.4,703.51 L1893.9,707.16 L1894.4,710.76 L1894.9,714.32 L1895.4,717.82 L1895.9,721.28 L1896.4,724.69 L1896.9,728.05 L1897.4,731.36 L1897.9,734.62 L1898.4,737.83 L1898.9,740.99 L1899.4,744.1 L1899.9,747.17 L1900.4,750.19 L1900.9,753.16 L1901.4,756.08 L1901.9,758.95 L1902.4,761.78 L1902.9,764.56 L1903.4,767.3 L1903.9,769.99 L1904.4,772.64 L1904.9,775.24 L1905.4,777.79 L1905.9,780.3 L1906.4,782.77 L1906.9,785.2 L1907.4,787.58 L1907.9,789.93 L1908.4,792.23 L1908.9,794.49 L1909.4,796.71 L1909.9,798.89 L1910.4,801.03 L1910.9,803.13 L1911.4,805.2 L1911.9,807.22 L1912.4,809.21 L1912.9,811.16 L1913.4,813.08 L1913.9,814.96 L1914.4,816.81 L1914.9,818.62 L1915.4,820.39 L1915.9,822.14 L1916.4,823.85 L1916.9,825.52 L1917.4,827.17 L1917.9,828.78 L1918.4,830.36 L1918.9,831.91 L1919.4,833.43 L1919.9,834.92 L1920.4,836.38 L1920.9,837.81 L1921.9,840.58 L1922.9,843.24 L1923.9,845.8 L1924.9,848.25 L1925.9,850.6 L1926.9,852.85 L1927.9,855 L1928.9,857.06 L1929.9,859.03 L1930.9,860.91 L1931.9,862.72 L1932.9,864.44 L1933.9,866.08 L1934.9,867.64 L1935.9,869.14 L1936.9,870.56 L1937.9,871.92 L1938.9,873.21 L1939.9,874.44 L1940.9,875.61 L1942.4,877.25 L1943.9,878.78 L1945.4,880.19 L1946.9,881.49 L1948.4,882.69 L1949.9,883.81 L1951.4,884.83 L1952.9,885.78 L1954.4,886.65 L1955.9,887.45 L1957.4,888.19 L1958.9,888.87 L1960.4,889.5 L1961.9,890.08 L1963.4,890.61 L1964.9,891.11 L1966.4,891.56 L1967.9,891.99 L1969.4,892.39 L1970.9,892.76 L1972.4,893.1 L1973.9,893.42 L1975.4,893.73 L1976.9,894.02 L1978.4,894.29 L1979.9,894.55 L1981.4,894.8 L1982.9,895.03 L1984.4,895.26 L1985.9,895.48 L1987.4,895.69 L1988.9,895.9 L1990.4,896.1 L1991.9,896.29 L1993.4,896.48 L1994.9,896.66 L1996.4,896.84 L1997.9,897.02 L1999.4,897.19 L2000.9,897.36 L2002.4,897.52 L2003.9,897.68 L2005.4,897.84 L2006.9,897.99 L2008.4,898.14 L2009.9,898.28 L2011.4,898.42 L2012.9,898.56 L2014.4,898.69 L2015.9,898.82 L2017.4,898.94 L2018.9,899.06 L2020.4,899.17 L2021.9,899.28 L2023.4,899.39 L2024.9,899.49 L2026.4,899.58 L2027.9,899.67 L2029.4,899.76 L2030.9,899.84 L2032.4,899.92 L2033.9,899.99 L2035.4,900.06 L2036.9,900.12 L2038.4,900.19 L2039.9,900.24 L2041.4,900.3 L2042.9,900.35 L2044.4,900.4 L2045.9,900.44 L2047.4,900.48 L2048.9,900.52 L2050.4,900.55 L2051.9,900.59 L2053.4,900.62 L2054.9,900.65 L2056.4,900.67 L2057.9,900.7 L2059.4,900.72 L2060.9,900.74 L2062.4,900.76 L2063.9,900.78 L2065.4,900.79 L2066.9,900.81 L2068.4,900.82 L2069.9,900.83" stroke="#009860" stroke-width="5.4" stroke-linejoin="round"/>
<path d="M1403.4,901 V786.43" stroke="#e03424" stroke-width="2.8" stroke-dasharray="10.62 4.6"/>
<path d="M1913.6,901 V787.7" stroke="#e03424" stroke-width="2.8" stroke-dasharray="10.62 4.6"/>
<path d="M1469.4,901 V799.35" stroke="#0070ea" stroke-width="2.8" stroke-dasharray="10.62 4.6"/>
<path d="M1877.7,901 V806.33" stroke="#0070ea" stroke-width="2.8" stroke-dasharray="10.62 4.6"/>
<path d="M1453.2,901 V796.33" stroke="#808080" stroke-width="2.8" stroke-dasharray="10.62 4.6"/>
<path d="M1825.5,901 V788.23" stroke="#808080" stroke-width="2.8" stroke-dasharray="10.62 4.6"/>
<path d="M1435.1,901 V794.12" stroke="#009860" stroke-width="2.8" stroke-dasharray="10.62 4.6"/>
<path d="M1909.2,901 V795.82" stroke="#009860" stroke-width="2.8" stroke-dasharray="10.62 4.6"/>
<path d="M1960.9,0 V1025" stroke="#e03424" stroke-opacity="0.8" stroke-width="4.1"/>
<path d="M1916.7,0 V1025" stroke="#0070ea" stroke-opacity="0.8" stroke-width="4.1"/>
<path d="M1864.5,0 V1025" stroke="#808080" stroke-opacity="0.8" stroke-width="4.1"/>
<path d="M1951.2,0 V1025" stroke="#009860" stroke-opacity="0.8" stroke-width="4.1"/>
</g>
<rect x="0.95" y="1" width="974.75" height="900.1" fill="none" stroke="#000" stroke-width="2.9"/>
<rect x="1093.4" y="2.2" width="974" height="898.9" fill="none" stroke="#000" stroke-width="2.9"/>
<rect x="613.6" y="23" width="340.9" height="249.2" rx="8" ry="8" fill="#fff" fill-opacity="0.8" stroke="#ccc" stroke-opacity="0.8" stroke-width="5"/>
<rect x="1114.8" y="24" width="535.8" height="246.8" rx="8" ry="8" fill="#fff" fill-opacity="0.8" stroke="#ccc" stroke-opacity="0.8" stroke-width="5"/>
<path d="M627.2,54.3 H718.2" stroke="#e03424" stroke-width="5.4"/>
<text x="748.5" y="69.8" font-family="'Liberation Serif', 'DejaVu Serif', serif" font-size="36" letter-spacing="2.1">STABLE-C</text>
<path d="M627.2,113.4 H718.2" stroke="#0070ea" stroke-width="5.4"/>
<text x="748.5" y="128.8" font-family="'Liberation Serif', 'DejaVu Serif', serif" font-size="36" letter-spacing="1.67">STABLE-K</text>
<path d="M627.2,172.6 H718.2" stroke="#808080" stroke-width="5.4"/>
<text x="748.5" y="187.7" font-family="'Liberation Serif', 'DejaVu Serif', serif" font-size="36" letter-spacing="1.7">STABLE-M</text>
<path d="M627.2,232.2 H718.2" stroke="#009860" stroke-width="5.4"/>
<text x="748.5" y="246.5" font-family="'Liberation Serif', 'DejaVu Serif', serif" font-size="36" letter-spacing="1.63">STABLE-N</text>
<path d="M1128.4,55.1 H1219.1" stroke="#e03424" stroke-width="5.4"/>
<text x="1249" y="71" font-family="'Liberation Serif', 'DejaVu Serif', serif" font-size="36" letter-spacing="2.1">STABLE-C</text>
<text transform="translate(1445.75,74.2) scale(1.188,1.146)" font-family="'DejaVu Sans', sans-serif" font-weight="200" font-size="40">+</text>
<text x="1498" y="71" font-family="'Liberation Serif', 'DejaVu Serif', serif" font-size="36" letter-spacing="0.75">SMBHB</text>
<path d="M1128.4,114.3 H1219.1" stroke="#0070ea" stroke-width="5.4"/>
<text x="1249" y="130" font-family="'Liberation Serif', 'DejaVu Serif', serif" font-size="36" letter-spacing="1.67">STABLE-K</text>
<text transform="translate(1447.05,133.2) scale(1.188,1.146)" font-family="'DejaVu Sans', sans-serif" font-weight="200" font-size="40">+</text>
<text x="1500" y="130" font-family="'Liberation Serif', 'DejaVu Serif', serif" font-size="36" letter-spacing="0.75">SMBHB</text>
<path d="M1128.4,173.3 H1219.1" stroke="#808080" stroke-width="5.4"/>
<text x="1249" y="189" font-family="'Liberation Serif', 'DejaVu Serif', serif" font-size="36" letter-spacing="1.7">STABLE-M</text>
<text transform="translate(1451.95,192.2) scale(1.188,1.146)" font-family="'DejaVu Sans', sans-serif" font-weight="200" font-size="40">+</text>
<text x="1505.3" y="189" font-family="'Liberation Serif', 'DejaVu Serif', serif" font-size="36" letter-spacing="0.75">SMBHB</text>
<path d="M1128.4,232.3 H1219.1" stroke="#009860" stroke-width="5.4"/>
<text x="1249" y="248" font-family="'Liberation Serif', 'DejaVu Serif', serif" font-size="36" letter-spacing="1.63">STABLE-N</text>
<text transform="translate(1446.25,251.2) scale(1.188,1.146)" font-family="'DejaVu Sans', sans-serif" font-weight="200" font-size="40">+</text>
<text x="1498.5" y="248" font-family="'Liberation Serif', 'DejaVu Serif', serif" font-size="36" letter-spacing="0.75">SMBHB</text>
<text transform="translate(75.03,952.69) scale(1.2786,0.82)" font-family="'Liberation Serif', 'DejaVu Serif', serif" font-size="60">−</text>
<text transform="translate(119.34,951.3) scale(0.9853,1)" font-family="'Liberation Serif', 'DejaVu Serif', serif" font-size="60">11.0</text>
<text transform="translate(318.47,952.69) scale(1.2786,0.82)" font-family="'Liberation Serif', 'DejaVu Serif', serif" font-size="60">−</text>
<text transform="translate(362.91,951.3) scale(0.9600,1)" font-family="'Liberation Serif', 'DejaVu Serif', serif" font-size="60">10.5</text>
<text transform="translate(562.16,952.69) scale(1.2786,0.82)" font-family="'Liberation Serif', 'DejaVu Serif', serif" font-size="60">−</text>
<text transform="translate(606.6,951.3) scale(0.9600,1)" font-family="'Liberation Serif', 'DejaVu Serif', serif" font-size="60">10.0</text>
<text transform="translate(820.69,952.69) scale(1.2786,0.82)" font-family="'Liberation Serif', 'DejaVu Serif', serif" font-size="60">−</text>
<text transform="translate(865.03,951.3) scale(0.9493,1)" font-family="'Liberation Serif', 'DejaVu Serif', serif" font-size="60">9.5</text>
<text transform="translate(1156.67,952.69) scale(1.2786,0.82)" font-family="'Liberation Serif', 'DejaVu Serif', serif" font-size="60">−</text>
<text transform="translate(1201.25,951.3) scale(0.9302,1)" font-family="'Liberation Serif', 'DejaVu Serif', serif" font-size="60">13</text>
<text transform="translate(1382.87,952.69) scale(1.2786,0.82)" font-family="'Liberation Serif', 'DejaVu Serif', serif" font-size="60">−</text>
<text transform="translate(1427.31,951.3) scale(0.9600,1)" font-family="'Liberation Serif', 'DejaVu Serif', serif" font-size="60">12</text>
<text transform="translate(1610.82,952.69) scale(1.2786,0.82)" font-family="'Liberation Serif', 'DejaVu Serif', serif" font-size="60">−</text>
<text transform="translate(1655.26,951.3) scale(0.9600,1)" font-family="'Liberation Serif', 'DejaVu Serif', serif" font-size="60">11</text>
<text transform="translate(1835.41,952.69) scale(1.2786,0.82)" font-family="'Liberation Serif', 'DejaVu Serif', serif" font-size="60">−</text>
<text transform="translate(1879.85,951.3) scale(0.9600,1)" font-family="'Liberation Serif', 'DejaVu Serif', serif" font-size="60">10</text>
<text transform="translate(387.1,1011) scale(0.9227,1)" font-family="'Liberation Serif', 'DejaVu Serif', serif" font-size="60">log</text>
<text x="460.33" y="1024.8" font-family="'Liberation Serif', 'DejaVu Serif', serif" font-size="39">10</text>
<text x="512.03" y="1011" font-family="'Liberation Serif', 'DejaVu Serif', serif" font-size="62" font-style="italic">G</text>
<text x="558.42" y="1010" font-family="'Liberation Serif', 'DejaVu Serif', serif" font-size="62" font-style="italic">μ</text>
<text transform="translate(1479.18,1011) scale(0.9227,1)" font-family="'Liberation Serif', 'DejaVu Serif', serif" font-size="60">log</text>
<text x="1552.4" y="1024.8" font-family="'Liberation Serif', 'DejaVu Serif', serif" font-size="39">10</text>
<text x="1604.1" y="1011" font-family="'Liberation Serif', 'DejaVu Serif', serif" font-size="62" font-style="italic">G</text>
<text x="1650.5" y="1010" font-family="'Liberation Serif', 'DejaVu Serif', serif" font-size="62" font-style="italic">μ</text>
</svg></body></html>
